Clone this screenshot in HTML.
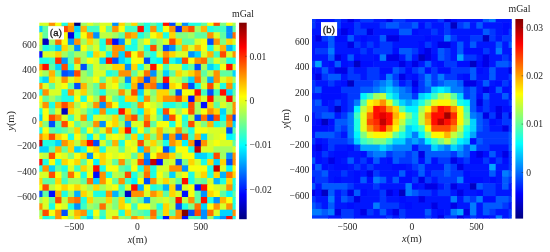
<!DOCTYPE html>
<html><head><meta charset="utf-8"><title>Gravity anomaly maps</title>
<style>html,body{margin:0;padding:0;background:#fff}svg{display:block}</style></head>
<body>
<svg width="550" height="252" viewBox="0 0 550 252" font-family="Liberation Serif, serif" fill="#262626">
<defs><linearGradient id="jet" x1="0" y1="0" x2="0" y2="1"><stop offset="0.000" stop-color="#800000"/><stop offset="0.025" stop-color="#990000"/><stop offset="0.050" stop-color="#b30000"/><stop offset="0.075" stop-color="#cc0000"/><stop offset="0.100" stop-color="#e50000"/><stop offset="0.125" stop-color="#ff0000"/><stop offset="0.150" stop-color="#ff1a00"/><stop offset="0.175" stop-color="#ff3300"/><stop offset="0.200" stop-color="#ff4c00"/><stop offset="0.225" stop-color="#ff6600"/><stop offset="0.250" stop-color="#ff8000"/><stop offset="0.275" stop-color="#ff9900"/><stop offset="0.300" stop-color="#ffb300"/><stop offset="0.325" stop-color="#ffcc00"/><stop offset="0.350" stop-color="#ffe500"/><stop offset="0.375" stop-color="#ffff00"/><stop offset="0.400" stop-color="#e5ff1a"/><stop offset="0.425" stop-color="#ccff33"/><stop offset="0.450" stop-color="#b3ff4c"/><stop offset="0.475" stop-color="#99ff66"/><stop offset="0.500" stop-color="#80ff80"/><stop offset="0.525" stop-color="#66ff99"/><stop offset="0.550" stop-color="#4cffb3"/><stop offset="0.575" stop-color="#33ffcc"/><stop offset="0.600" stop-color="#1affe5"/><stop offset="0.625" stop-color="#00ffff"/><stop offset="0.650" stop-color="#00e5ff"/><stop offset="0.675" stop-color="#00ccff"/><stop offset="0.700" stop-color="#00b3ff"/><stop offset="0.725" stop-color="#0099ff"/><stop offset="0.750" stop-color="#0080ff"/><stop offset="0.775" stop-color="#0066ff"/><stop offset="0.800" stop-color="#004cff"/><stop offset="0.825" stop-color="#0033ff"/><stop offset="0.850" stop-color="#001aff"/><stop offset="0.875" stop-color="#0000ff"/><stop offset="0.900" stop-color="#0000e5"/><stop offset="0.925" stop-color="#0000cc"/><stop offset="0.950" stop-color="#0000b3"/><stop offset="0.975" stop-color="#000099"/><stop offset="1.000" stop-color="#000080"/></linearGradient><filter id="soft" x="-2%" y="-2%" width="104%" height="104%"><feGaussianBlur stdDeviation="0.45"/></filter></defs>
<rect width="550" height="252" fill="#fff"/>
<g filter="url(#soft)"><rect x="39.30" y="22.70" width="10.10" height="3.77" fill="#d8ff27"/>
<rect x="48.80" y="22.70" width="6.94" height="3.77" fill="#ff9100"/>
<rect x="55.14" y="22.70" width="6.94" height="3.77" fill="#f7ff08"/>
<rect x="61.47" y="22.70" width="6.94" height="3.77" fill="#1affe5"/>
<rect x="67.81" y="22.70" width="6.94" height="3.77" fill="#ffb300"/>
<rect x="74.15" y="22.70" width="6.94" height="3.77" fill="#000080"/>
<rect x="80.48" y="22.70" width="6.94" height="3.77" fill="#a2ff5e"/>
<rect x="86.82" y="22.70" width="6.94" height="3.77" fill="#d8ff27"/>
<rect x="93.15" y="22.70" width="6.94" height="3.77" fill="#a2ff5e"/>
<rect x="99.49" y="22.70" width="13.27" height="3.77" fill="#d8ff27"/>
<rect x="112.16" y="22.70" width="6.94" height="3.77" fill="#0090ff"/>
<rect x="118.49" y="22.70" width="6.94" height="3.77" fill="#ffd500"/>
<rect x="124.83" y="22.70" width="6.94" height="3.77" fill="#a2ff5e"/>
<rect x="131.16" y="22.70" width="6.94" height="3.77" fill="#ffd500"/>
<rect x="137.50" y="22.70" width="6.94" height="3.77" fill="#5effa2"/>
<rect x="143.84" y="22.70" width="6.94" height="3.77" fill="#1affe5"/>
<rect x="150.17" y="22.70" width="6.94" height="3.77" fill="#5effa2"/>
<rect x="156.51" y="22.70" width="6.94" height="3.77" fill="#1affe5"/>
<rect x="162.84" y="22.70" width="6.94" height="3.77" fill="#ff0800"/>
<rect x="169.18" y="22.70" width="6.94" height="3.77" fill="#004dff"/>
<rect x="175.51" y="22.70" width="6.94" height="3.77" fill="#d8ff27"/>
<rect x="181.85" y="22.70" width="6.94" height="3.77" fill="#0090ff"/>
<rect x="188.18" y="22.70" width="13.27" height="3.77" fill="#1affe5"/>
<rect x="200.85" y="22.70" width="6.94" height="3.77" fill="#5effa2"/>
<rect x="207.19" y="22.70" width="6.94" height="3.77" fill="#f7ff08"/>
<rect x="213.53" y="22.70" width="6.94" height="3.77" fill="#ff4c00"/>
<rect x="219.86" y="22.70" width="6.94" height="3.77" fill="#80ff80"/>
<rect x="226.20" y="22.70" width="6.94" height="3.77" fill="#f7ff08"/>
<rect x="232.53" y="22.70" width="3.17" height="3.77" fill="#a2ff5e"/>
<rect x="39.30" y="25.87" width="3.77" height="6.94" fill="#00d4ff"/>
<rect x="42.47" y="25.87" width="6.94" height="6.94" fill="#5effa2"/>
<rect x="48.80" y="25.87" width="13.27" height="6.94" fill="#a2ff5e"/>
<rect x="61.47" y="25.87" width="6.94" height="6.94" fill="#ff4c00"/>
<rect x="67.81" y="25.87" width="6.94" height="6.94" fill="#ff9100"/>
<rect x="74.15" y="25.87" width="6.94" height="6.94" fill="#00d4ff"/>
<rect x="80.48" y="25.87" width="6.94" height="6.94" fill="#ffb300"/>
<rect x="86.82" y="25.87" width="13.27" height="6.94" fill="#3cffc3"/>
<rect x="99.49" y="25.87" width="6.94" height="6.94" fill="#f7ff08"/>
<rect x="105.82" y="25.87" width="6.94" height="6.94" fill="#5effa2"/>
<rect x="112.16" y="25.87" width="6.94" height="6.94" fill="#ff9100"/>
<rect x="118.49" y="25.87" width="6.94" height="6.94" fill="#f7ff08"/>
<rect x="124.83" y="25.87" width="13.27" height="6.94" fill="#3cffc3"/>
<rect x="137.50" y="25.87" width="6.94" height="6.94" fill="#ff0800"/>
<rect x="143.84" y="25.87" width="6.94" height="6.94" fill="#1affe5"/>
<rect x="150.17" y="25.87" width="6.94" height="6.94" fill="#ff9100"/>
<rect x="156.51" y="25.87" width="6.94" height="6.94" fill="#1affe5"/>
<rect x="162.84" y="25.87" width="6.94" height="6.94" fill="#f7ff08"/>
<rect x="169.18" y="25.87" width="6.94" height="6.94" fill="#ff9100"/>
<rect x="175.51" y="25.87" width="6.94" height="6.94" fill="#002aff"/>
<rect x="181.85" y="25.87" width="6.94" height="6.94" fill="#ff9100"/>
<rect x="188.18" y="25.87" width="6.94" height="6.94" fill="#ff4c00"/>
<rect x="194.52" y="25.87" width="6.94" height="6.94" fill="#a2ff5e"/>
<rect x="200.85" y="25.87" width="6.94" height="6.94" fill="#ffb300"/>
<rect x="207.19" y="25.87" width="6.94" height="6.94" fill="#1affe5"/>
<rect x="213.53" y="25.87" width="13.27" height="6.94" fill="#3cffc3"/>
<rect x="226.20" y="25.87" width="6.94" height="6.94" fill="#0090ff"/>
<rect x="232.53" y="25.87" width="3.17" height="6.94" fill="#5effa2"/>
<rect x="39.30" y="32.21" width="3.77" height="6.94" fill="#d8ff27"/>
<rect x="42.47" y="32.21" width="6.94" height="6.94" fill="#5effa2"/>
<rect x="48.80" y="32.21" width="13.27" height="6.94" fill="#a2ff5e"/>
<rect x="61.47" y="32.21" width="6.94" height="6.94" fill="#f7ff08"/>
<rect x="67.81" y="32.21" width="6.94" height="6.94" fill="#0000e6"/>
<rect x="74.15" y="32.21" width="6.94" height="6.94" fill="#1affe5"/>
<rect x="80.48" y="32.21" width="6.94" height="6.94" fill="#f7ff08"/>
<rect x="86.82" y="32.21" width="6.94" height="6.94" fill="#ff9100"/>
<rect x="93.15" y="32.21" width="6.94" height="6.94" fill="#0090ff"/>
<rect x="99.49" y="32.21" width="13.27" height="6.94" fill="#bdff42"/>
<rect x="112.16" y="32.21" width="6.94" height="6.94" fill="#a2ff5e"/>
<rect x="118.49" y="32.21" width="6.94" height="6.94" fill="#5effa2"/>
<rect x="124.83" y="32.21" width="6.94" height="6.94" fill="#ff9100"/>
<rect x="131.16" y="32.21" width="6.94" height="6.94" fill="#ffb300"/>
<rect x="137.50" y="32.21" width="6.94" height="6.94" fill="#1affe5"/>
<rect x="143.84" y="32.21" width="6.94" height="6.94" fill="#5effa2"/>
<rect x="150.17" y="32.21" width="6.94" height="6.94" fill="#f7ff08"/>
<rect x="156.51" y="32.21" width="6.94" height="6.94" fill="#ffd500"/>
<rect x="162.84" y="32.21" width="6.94" height="6.94" fill="#1affe5"/>
<rect x="169.18" y="32.21" width="6.94" height="6.94" fill="#ffd500"/>
<rect x="175.51" y="32.21" width="13.27" height="6.94" fill="#80ff80"/>
<rect x="188.18" y="32.21" width="6.94" height="6.94" fill="#a2ff5e"/>
<rect x="194.52" y="32.21" width="13.27" height="6.94" fill="#5effa2"/>
<rect x="207.19" y="32.21" width="6.94" height="6.94" fill="#ff9100"/>
<rect x="213.53" y="32.21" width="6.94" height="6.94" fill="#d8ff27"/>
<rect x="219.86" y="32.21" width="6.94" height="6.94" fill="#5effa2"/>
<rect x="226.20" y="32.21" width="6.94" height="6.94" fill="#0090ff"/>
<rect x="232.53" y="32.21" width="3.17" height="6.94" fill="#ff6e00"/>
<rect x="39.30" y="38.55" width="3.77" height="6.94" fill="#d8ff27"/>
<rect x="42.47" y="38.55" width="6.94" height="6.94" fill="#0000c3"/>
<rect x="48.80" y="38.55" width="6.94" height="6.94" fill="#a2ff5e"/>
<rect x="55.14" y="38.55" width="6.94" height="6.94" fill="#ff6e00"/>
<rect x="61.47" y="38.55" width="6.94" height="6.94" fill="#f7ff08"/>
<rect x="67.81" y="38.55" width="6.94" height="6.94" fill="#0090ff"/>
<rect x="74.15" y="38.55" width="6.94" height="6.94" fill="#ff9100"/>
<rect x="80.48" y="38.55" width="6.94" height="6.94" fill="#a2ff5e"/>
<rect x="86.82" y="38.55" width="6.94" height="6.94" fill="#ffd500"/>
<rect x="93.15" y="38.55" width="6.94" height="6.94" fill="#bdff42"/>
<rect x="99.49" y="38.55" width="6.94" height="6.94" fill="#1affe5"/>
<rect x="105.82" y="38.55" width="6.94" height="6.94" fill="#ff4c00"/>
<rect x="112.16" y="38.55" width="6.94" height="6.94" fill="#0008ff"/>
<rect x="118.49" y="38.55" width="6.94" height="6.94" fill="#0090ff"/>
<rect x="124.83" y="38.55" width="6.94" height="6.94" fill="#d8ff27"/>
<rect x="131.16" y="38.55" width="6.94" height="6.94" fill="#1affe5"/>
<rect x="137.50" y="38.55" width="6.94" height="6.94" fill="#a2ff5e"/>
<rect x="143.84" y="38.55" width="6.94" height="6.94" fill="#f7ff08"/>
<rect x="150.17" y="38.55" width="6.94" height="6.94" fill="#5effa2"/>
<rect x="156.51" y="38.55" width="6.94" height="6.94" fill="#a2ff5e"/>
<rect x="162.84" y="38.55" width="6.94" height="6.94" fill="#d8ff27"/>
<rect x="169.18" y="38.55" width="6.94" height="6.94" fill="#ff4c00"/>
<rect x="175.51" y="38.55" width="6.94" height="6.94" fill="#ffd500"/>
<rect x="181.85" y="38.55" width="13.27" height="6.94" fill="#5effa2"/>
<rect x="194.52" y="38.55" width="6.94" height="6.94" fill="#d8ff27"/>
<rect x="200.85" y="38.55" width="6.94" height="6.94" fill="#f7ff08"/>
<rect x="207.19" y="38.55" width="6.94" height="6.94" fill="#004dff"/>
<rect x="213.53" y="38.55" width="6.94" height="6.94" fill="#ff9100"/>
<rect x="219.86" y="38.55" width="6.94" height="6.94" fill="#80ff80"/>
<rect x="226.20" y="38.55" width="6.94" height="6.94" fill="#ffd500"/>
<rect x="232.53" y="38.55" width="3.17" height="6.94" fill="#d8ff27"/>
<rect x="39.30" y="44.89" width="3.77" height="6.94" fill="#a2ff5e"/>
<rect x="42.47" y="44.89" width="6.94" height="6.94" fill="#1affe5"/>
<rect x="48.80" y="44.89" width="6.94" height="6.94" fill="#3cffc3"/>
<rect x="55.14" y="44.89" width="6.94" height="6.94" fill="#00d4ff"/>
<rect x="61.47" y="44.89" width="6.94" height="6.94" fill="#ffd500"/>
<rect x="67.81" y="44.89" width="6.94" height="6.94" fill="#a2ff5e"/>
<rect x="74.15" y="44.89" width="6.94" height="6.94" fill="#0090ff"/>
<rect x="80.48" y="44.89" width="6.94" height="6.94" fill="#f7ff08"/>
<rect x="86.82" y="44.89" width="6.94" height="6.94" fill="#a2ff5e"/>
<rect x="93.15" y="44.89" width="6.94" height="6.94" fill="#d8ff27"/>
<rect x="99.49" y="44.89" width="6.94" height="6.94" fill="#1affe5"/>
<rect x="105.82" y="44.89" width="6.94" height="6.94" fill="#a2ff5e"/>
<rect x="112.16" y="44.89" width="13.27" height="6.94" fill="#ff9100"/>
<rect x="124.83" y="44.89" width="13.27" height="6.94" fill="#1affe5"/>
<rect x="137.50" y="44.89" width="6.94" height="6.94" fill="#a2ff5e"/>
<rect x="143.84" y="44.89" width="6.94" height="6.94" fill="#1affe5"/>
<rect x="150.17" y="44.89" width="6.94" height="6.94" fill="#ff4c00"/>
<rect x="156.51" y="44.89" width="6.94" height="6.94" fill="#a2ff5e"/>
<rect x="162.84" y="44.89" width="6.94" height="6.94" fill="#004dff"/>
<rect x="169.18" y="44.89" width="6.94" height="6.94" fill="#0090ff"/>
<rect x="175.51" y="44.89" width="6.94" height="6.94" fill="#5effa2"/>
<rect x="181.85" y="44.89" width="6.94" height="6.94" fill="#ffb300"/>
<rect x="188.18" y="44.89" width="6.94" height="6.94" fill="#d8ff27"/>
<rect x="194.52" y="44.89" width="6.94" height="6.94" fill="#ffb300"/>
<rect x="200.85" y="44.89" width="6.94" height="6.94" fill="#f7ff08"/>
<rect x="207.19" y="44.89" width="6.94" height="6.94" fill="#1affe5"/>
<rect x="213.53" y="44.89" width="6.94" height="6.94" fill="#d8ff27"/>
<rect x="219.86" y="44.89" width="6.94" height="6.94" fill="#ffb300"/>
<rect x="226.20" y="44.89" width="6.94" height="6.94" fill="#00b2ff"/>
<rect x="232.53" y="44.89" width="3.17" height="6.94" fill="#1affe5"/>
<rect x="39.30" y="51.22" width="3.77" height="6.94" fill="#0008ff"/>
<rect x="42.47" y="51.22" width="13.27" height="6.94" fill="#d8ff27"/>
<rect x="55.14" y="51.22" width="6.94" height="6.94" fill="#ffd500"/>
<rect x="61.47" y="51.22" width="6.94" height="6.94" fill="#a2ff5e"/>
<rect x="67.81" y="51.22" width="6.94" height="6.94" fill="#5effa2"/>
<rect x="74.15" y="51.22" width="13.27" height="6.94" fill="#a2ff5e"/>
<rect x="86.82" y="51.22" width="6.94" height="6.94" fill="#1affe5"/>
<rect x="93.15" y="51.22" width="6.94" height="6.94" fill="#ffd500"/>
<rect x="99.49" y="51.22" width="6.94" height="6.94" fill="#d8ff27"/>
<rect x="105.82" y="51.22" width="6.94" height="6.94" fill="#1affe5"/>
<rect x="112.16" y="51.22" width="6.94" height="6.94" fill="#ff9100"/>
<rect x="118.49" y="51.22" width="6.94" height="6.94" fill="#00d4ff"/>
<rect x="124.83" y="51.22" width="6.94" height="6.94" fill="#ff4c00"/>
<rect x="131.16" y="51.22" width="6.94" height="6.94" fill="#f7ff08"/>
<rect x="137.50" y="51.22" width="6.94" height="6.94" fill="#ff9100"/>
<rect x="143.84" y="51.22" width="6.94" height="6.94" fill="#5effa2"/>
<rect x="150.17" y="51.22" width="6.94" height="6.94" fill="#1affe5"/>
<rect x="156.51" y="51.22" width="6.94" height="6.94" fill="#d8ff27"/>
<rect x="162.84" y="51.22" width="6.94" height="6.94" fill="#ff9100"/>
<rect x="169.18" y="51.22" width="6.94" height="6.94" fill="#ffd500"/>
<rect x="175.51" y="51.22" width="13.27" height="6.94" fill="#d8ff27"/>
<rect x="188.18" y="51.22" width="6.94" height="6.94" fill="#0090ff"/>
<rect x="194.52" y="51.22" width="6.94" height="6.94" fill="#00d4ff"/>
<rect x="200.85" y="51.22" width="6.94" height="6.94" fill="#d8ff27"/>
<rect x="207.19" y="51.22" width="6.94" height="6.94" fill="#ffb300"/>
<rect x="213.53" y="51.22" width="6.94" height="6.94" fill="#3cffc3"/>
<rect x="219.86" y="51.22" width="6.94" height="6.94" fill="#ff4c00"/>
<rect x="226.20" y="51.22" width="6.94" height="6.94" fill="#d8ff27"/>
<rect x="232.53" y="51.22" width="3.17" height="6.94" fill="#ff9100"/>
<rect x="39.30" y="57.56" width="10.10" height="6.94" fill="#1affe5"/>
<rect x="48.80" y="57.56" width="6.94" height="6.94" fill="#3cffc3"/>
<rect x="55.14" y="57.56" width="6.94" height="6.94" fill="#ff2a00"/>
<rect x="61.47" y="57.56" width="6.94" height="6.94" fill="#0090ff"/>
<rect x="67.81" y="57.56" width="6.94" height="6.94" fill="#5effa2"/>
<rect x="74.15" y="57.56" width="6.94" height="6.94" fill="#ff9100"/>
<rect x="80.48" y="57.56" width="6.94" height="6.94" fill="#a2ff5e"/>
<rect x="86.82" y="57.56" width="6.94" height="6.94" fill="#f7ff08"/>
<rect x="93.15" y="57.56" width="6.94" height="6.94" fill="#d8ff27"/>
<rect x="99.49" y="57.56" width="6.94" height="6.94" fill="#00d4ff"/>
<rect x="105.82" y="57.56" width="6.94" height="6.94" fill="#ff0800"/>
<rect x="112.16" y="57.56" width="6.94" height="6.94" fill="#004dff"/>
<rect x="118.49" y="57.56" width="6.94" height="6.94" fill="#00d4ff"/>
<rect x="124.83" y="57.56" width="6.94" height="6.94" fill="#1affe5"/>
<rect x="131.16" y="57.56" width="13.27" height="6.94" fill="#f7ff08"/>
<rect x="143.84" y="57.56" width="6.94" height="6.94" fill="#004dff"/>
<rect x="150.17" y="57.56" width="6.94" height="6.94" fill="#1affe5"/>
<rect x="156.51" y="57.56" width="6.94" height="6.94" fill="#00f6ff"/>
<rect x="162.84" y="57.56" width="6.94" height="6.94" fill="#ff4c00"/>
<rect x="169.18" y="57.56" width="6.94" height="6.94" fill="#1affe5"/>
<rect x="175.51" y="57.56" width="6.94" height="6.94" fill="#00d4ff"/>
<rect x="181.85" y="57.56" width="6.94" height="6.94" fill="#ff4c00"/>
<rect x="188.18" y="57.56" width="6.94" height="6.94" fill="#f7ff08"/>
<rect x="194.52" y="57.56" width="6.94" height="6.94" fill="#ff9100"/>
<rect x="200.85" y="57.56" width="6.94" height="6.94" fill="#ff6e00"/>
<rect x="207.19" y="57.56" width="6.94" height="6.94" fill="#5effa2"/>
<rect x="213.53" y="57.56" width="6.94" height="6.94" fill="#d8ff27"/>
<rect x="219.86" y="57.56" width="6.94" height="6.94" fill="#a2ff5e"/>
<rect x="226.20" y="57.56" width="9.50" height="6.94" fill="#1affe5"/>
<rect x="39.30" y="63.90" width="3.77" height="6.94" fill="#ff9100"/>
<rect x="42.47" y="63.90" width="6.94" height="6.94" fill="#ff0800"/>
<rect x="48.80" y="63.90" width="6.94" height="6.94" fill="#5effa2"/>
<rect x="55.14" y="63.90" width="6.94" height="6.94" fill="#00d4ff"/>
<rect x="61.47" y="63.90" width="6.94" height="6.94" fill="#ff4c00"/>
<rect x="67.81" y="63.90" width="6.94" height="6.94" fill="#1affe5"/>
<rect x="74.15" y="63.90" width="6.94" height="6.94" fill="#d8ff27"/>
<rect x="80.48" y="63.90" width="6.94" height="6.94" fill="#004dff"/>
<rect x="86.82" y="63.90" width="6.94" height="6.94" fill="#5effa2"/>
<rect x="93.15" y="63.90" width="6.94" height="6.94" fill="#d8ff27"/>
<rect x="99.49" y="63.90" width="6.94" height="6.94" fill="#a2ff5e"/>
<rect x="105.82" y="63.90" width="6.94" height="6.94" fill="#bdff42"/>
<rect x="112.16" y="63.90" width="13.27" height="6.94" fill="#ffd500"/>
<rect x="124.83" y="63.90" width="6.94" height="6.94" fill="#0090ff"/>
<rect x="131.16" y="63.90" width="6.94" height="6.94" fill="#ffd500"/>
<rect x="137.50" y="63.90" width="6.94" height="6.94" fill="#1affe5"/>
<rect x="143.84" y="63.90" width="6.94" height="6.94" fill="#bdff42"/>
<rect x="150.17" y="63.90" width="6.94" height="6.94" fill="#ff0800"/>
<rect x="156.51" y="63.90" width="6.94" height="6.94" fill="#f7ff08"/>
<rect x="162.84" y="63.90" width="6.94" height="6.94" fill="#3cffc3"/>
<rect x="169.18" y="63.90" width="13.27" height="6.94" fill="#d8ff27"/>
<rect x="181.85" y="63.90" width="6.94" height="6.94" fill="#1affe5"/>
<rect x="188.18" y="63.90" width="6.94" height="6.94" fill="#5effa2"/>
<rect x="194.52" y="63.90" width="6.94" height="6.94" fill="#004dff"/>
<rect x="200.85" y="63.90" width="6.94" height="6.94" fill="#a2ff5e"/>
<rect x="207.19" y="63.90" width="6.94" height="6.94" fill="#00d4ff"/>
<rect x="213.53" y="63.90" width="6.94" height="6.94" fill="#1affe5"/>
<rect x="219.86" y="63.90" width="6.94" height="6.94" fill="#f7ff08"/>
<rect x="226.20" y="63.90" width="6.94" height="6.94" fill="#ff0800"/>
<rect x="232.53" y="63.90" width="3.17" height="6.94" fill="#d8ff27"/>
<rect x="39.30" y="70.24" width="3.77" height="6.94" fill="#d8ff27"/>
<rect x="42.47" y="70.24" width="6.94" height="6.94" fill="#a2ff5e"/>
<rect x="48.80" y="70.24" width="6.94" height="6.94" fill="#ffb300"/>
<rect x="55.14" y="70.24" width="6.94" height="6.94" fill="#5effa2"/>
<rect x="61.47" y="70.24" width="6.94" height="6.94" fill="#004dff"/>
<rect x="67.81" y="70.24" width="6.94" height="6.94" fill="#006eff"/>
<rect x="74.15" y="70.24" width="6.94" height="6.94" fill="#ff4c00"/>
<rect x="80.48" y="70.24" width="6.94" height="6.94" fill="#a2ff5e"/>
<rect x="86.82" y="70.24" width="6.94" height="6.94" fill="#5effa2"/>
<rect x="93.15" y="70.24" width="13.27" height="6.94" fill="#d8ff27"/>
<rect x="105.82" y="70.24" width="6.94" height="6.94" fill="#1affe5"/>
<rect x="112.16" y="70.24" width="6.94" height="6.94" fill="#3cffc3"/>
<rect x="118.49" y="70.24" width="13.27" height="6.94" fill="#ff9100"/>
<rect x="131.16" y="70.24" width="6.94" height="6.94" fill="#5effa2"/>
<rect x="137.50" y="70.24" width="6.94" height="6.94" fill="#d8ff27"/>
<rect x="143.84" y="70.24" width="6.94" height="6.94" fill="#ff6e00"/>
<rect x="150.17" y="70.24" width="6.94" height="6.94" fill="#0090ff"/>
<rect x="156.51" y="70.24" width="6.94" height="6.94" fill="#a2ff5e"/>
<rect x="162.84" y="70.24" width="6.94" height="6.94" fill="#00d4ff"/>
<rect x="169.18" y="70.24" width="6.94" height="6.94" fill="#5effa2"/>
<rect x="175.51" y="70.24" width="6.94" height="6.94" fill="#ffd500"/>
<rect x="181.85" y="70.24" width="6.94" height="6.94" fill="#d8ff27"/>
<rect x="188.18" y="70.24" width="6.94" height="6.94" fill="#ffd500"/>
<rect x="194.52" y="70.24" width="6.94" height="6.94" fill="#ff9100"/>
<rect x="200.85" y="70.24" width="6.94" height="6.94" fill="#5effa2"/>
<rect x="207.19" y="70.24" width="6.94" height="6.94" fill="#bdff42"/>
<rect x="213.53" y="70.24" width="6.94" height="6.94" fill="#ff9100"/>
<rect x="219.86" y="70.24" width="13.27" height="6.94" fill="#5effa2"/>
<rect x="232.53" y="70.24" width="3.17" height="6.94" fill="#00d4ff"/>
<rect x="39.30" y="76.58" width="3.77" height="6.94" fill="#1affe5"/>
<rect x="42.47" y="76.58" width="6.94" height="6.94" fill="#00d4ff"/>
<rect x="48.80" y="76.58" width="6.94" height="6.94" fill="#ffd500"/>
<rect x="55.14" y="76.58" width="6.94" height="6.94" fill="#d8ff27"/>
<rect x="61.47" y="76.58" width="6.94" height="6.94" fill="#ff9100"/>
<rect x="67.81" y="76.58" width="6.94" height="6.94" fill="#d8ff27"/>
<rect x="74.15" y="76.58" width="6.94" height="6.94" fill="#ffd500"/>
<rect x="80.48" y="76.58" width="6.94" height="6.94" fill="#a2ff5e"/>
<rect x="86.82" y="76.58" width="6.94" height="6.94" fill="#bdff42"/>
<rect x="93.15" y="76.58" width="6.94" height="6.94" fill="#f7ff08"/>
<rect x="99.49" y="76.58" width="6.94" height="6.94" fill="#5effa2"/>
<rect x="105.82" y="76.58" width="6.94" height="6.94" fill="#d8ff27"/>
<rect x="112.16" y="76.58" width="6.94" height="6.94" fill="#ffd500"/>
<rect x="118.49" y="76.58" width="6.94" height="6.94" fill="#a2ff5e"/>
<rect x="124.83" y="76.58" width="6.94" height="6.94" fill="#0090ff"/>
<rect x="131.16" y="76.58" width="6.94" height="6.94" fill="#ffd500"/>
<rect x="137.50" y="76.58" width="6.94" height="6.94" fill="#ff9100"/>
<rect x="143.84" y="76.58" width="6.94" height="6.94" fill="#004dff"/>
<rect x="150.17" y="76.58" width="6.94" height="6.94" fill="#ff9100"/>
<rect x="156.51" y="76.58" width="6.94" height="6.94" fill="#a2ff5e"/>
<rect x="162.84" y="76.58" width="6.94" height="6.94" fill="#ff0800"/>
<rect x="169.18" y="76.58" width="6.94" height="6.94" fill="#d8ff27"/>
<rect x="175.51" y="76.58" width="6.94" height="6.94" fill="#bdff42"/>
<rect x="181.85" y="76.58" width="6.94" height="6.94" fill="#5effa2"/>
<rect x="188.18" y="76.58" width="6.94" height="6.94" fill="#00d4ff"/>
<rect x="194.52" y="76.58" width="6.94" height="6.94" fill="#ff6e00"/>
<rect x="200.85" y="76.58" width="6.94" height="6.94" fill="#a2ff5e"/>
<rect x="207.19" y="76.58" width="6.94" height="6.94" fill="#00b2ff"/>
<rect x="213.53" y="76.58" width="6.94" height="6.94" fill="#ff9100"/>
<rect x="219.86" y="76.58" width="6.94" height="6.94" fill="#d8ff27"/>
<rect x="226.20" y="76.58" width="6.94" height="6.94" fill="#ffd500"/>
<rect x="232.53" y="76.58" width="3.17" height="6.94" fill="#a2ff5e"/>
<rect x="39.30" y="82.92" width="3.77" height="6.94" fill="#ff9100"/>
<rect x="42.47" y="82.92" width="6.94" height="6.94" fill="#d8ff27"/>
<rect x="48.80" y="82.92" width="6.94" height="6.94" fill="#5effa2"/>
<rect x="55.14" y="82.92" width="6.94" height="6.94" fill="#d8ff27"/>
<rect x="61.47" y="82.92" width="6.94" height="6.94" fill="#f7ff08"/>
<rect x="67.81" y="82.92" width="6.94" height="6.94" fill="#5effa2"/>
<rect x="74.15" y="82.92" width="6.94" height="6.94" fill="#004dff"/>
<rect x="80.48" y="82.92" width="6.94" height="6.94" fill="#ffb300"/>
<rect x="86.82" y="82.92" width="6.94" height="6.94" fill="#a2ff5e"/>
<rect x="93.15" y="82.92" width="6.94" height="6.94" fill="#5effa2"/>
<rect x="99.49" y="82.92" width="6.94" height="6.94" fill="#ff9100"/>
<rect x="105.82" y="82.92" width="6.94" height="6.94" fill="#d8ff27"/>
<rect x="112.16" y="82.92" width="6.94" height="6.94" fill="#f7ff08"/>
<rect x="118.49" y="82.92" width="6.94" height="6.94" fill="#5effa2"/>
<rect x="124.83" y="82.92" width="6.94" height="6.94" fill="#1affe5"/>
<rect x="131.16" y="82.92" width="6.94" height="6.94" fill="#ffb300"/>
<rect x="137.50" y="82.92" width="6.94" height="6.94" fill="#004dff"/>
<rect x="143.84" y="82.92" width="6.94" height="6.94" fill="#ff9100"/>
<rect x="150.17" y="82.92" width="6.94" height="6.94" fill="#ff6e00"/>
<rect x="156.51" y="82.92" width="6.94" height="6.94" fill="#0090ff"/>
<rect x="162.84" y="82.92" width="6.94" height="6.94" fill="#002aff"/>
<rect x="169.18" y="82.92" width="6.94" height="6.94" fill="#ffd500"/>
<rect x="175.51" y="82.92" width="6.94" height="6.94" fill="#f7ff08"/>
<rect x="181.85" y="82.92" width="6.94" height="6.94" fill="#ff4c00"/>
<rect x="188.18" y="82.92" width="6.94" height="6.94" fill="#004dff"/>
<rect x="194.52" y="82.92" width="6.94" height="6.94" fill="#1affe5"/>
<rect x="200.85" y="82.92" width="6.94" height="6.94" fill="#d8ff27"/>
<rect x="207.19" y="82.92" width="6.94" height="6.94" fill="#ff4c00"/>
<rect x="213.53" y="82.92" width="6.94" height="6.94" fill="#d8ff27"/>
<rect x="219.86" y="82.92" width="6.94" height="6.94" fill="#1affe5"/>
<rect x="226.20" y="82.92" width="6.94" height="6.94" fill="#ff9100"/>
<rect x="232.53" y="82.92" width="3.17" height="6.94" fill="#1affe5"/>
<rect x="39.30" y="89.26" width="3.77" height="6.94" fill="#1affe5"/>
<rect x="42.47" y="89.26" width="6.94" height="6.94" fill="#ff9100"/>
<rect x="48.80" y="89.26" width="13.27" height="6.94" fill="#d8ff27"/>
<rect x="61.47" y="89.26" width="6.94" height="6.94" fill="#1affe5"/>
<rect x="67.81" y="89.26" width="6.94" height="6.94" fill="#ff9100"/>
<rect x="74.15" y="89.26" width="6.94" height="6.94" fill="#d8ff27"/>
<rect x="80.48" y="89.26" width="6.94" height="6.94" fill="#ffd500"/>
<rect x="86.82" y="89.26" width="6.94" height="6.94" fill="#a2ff5e"/>
<rect x="93.15" y="89.26" width="6.94" height="6.94" fill="#5effa2"/>
<rect x="99.49" y="89.26" width="6.94" height="6.94" fill="#1affe5"/>
<rect x="105.82" y="89.26" width="13.27" height="6.94" fill="#a2ff5e"/>
<rect x="118.49" y="89.26" width="6.94" height="6.94" fill="#ff9100"/>
<rect x="124.83" y="89.26" width="6.94" height="6.94" fill="#bdff42"/>
<rect x="131.16" y="89.26" width="6.94" height="6.94" fill="#ff4c00"/>
<rect x="137.50" y="89.26" width="6.94" height="6.94" fill="#00d4ff"/>
<rect x="143.84" y="89.26" width="6.94" height="6.94" fill="#d8ff27"/>
<rect x="150.17" y="89.26" width="6.94" height="6.94" fill="#80ff80"/>
<rect x="156.51" y="89.26" width="13.27" height="6.94" fill="#ffd500"/>
<rect x="169.18" y="89.26" width="6.94" height="6.94" fill="#80ff80"/>
<rect x="175.51" y="89.26" width="6.94" height="6.94" fill="#004dff"/>
<rect x="181.85" y="89.26" width="13.27" height="6.94" fill="#f7ff08"/>
<rect x="194.52" y="89.26" width="6.94" height="6.94" fill="#ff0800"/>
<rect x="200.85" y="89.26" width="6.94" height="6.94" fill="#3cffc3"/>
<rect x="207.19" y="89.26" width="6.94" height="6.94" fill="#004dff"/>
<rect x="213.53" y="89.26" width="6.94" height="6.94" fill="#3cffc3"/>
<rect x="219.86" y="89.26" width="6.94" height="6.94" fill="#ff0800"/>
<rect x="226.20" y="89.26" width="6.94" height="6.94" fill="#00d4ff"/>
<rect x="232.53" y="89.26" width="3.17" height="6.94" fill="#5effa2"/>
<rect x="39.30" y="95.60" width="3.77" height="6.94" fill="#f7ff08"/>
<rect x="42.47" y="95.60" width="6.94" height="6.94" fill="#5effa2"/>
<rect x="48.80" y="95.60" width="6.94" height="6.94" fill="#a2ff5e"/>
<rect x="55.14" y="95.60" width="6.94" height="6.94" fill="#5effa2"/>
<rect x="61.47" y="95.60" width="13.27" height="6.94" fill="#1affe5"/>
<rect x="74.15" y="95.60" width="6.94" height="6.94" fill="#f7ff08"/>
<rect x="80.48" y="95.60" width="6.94" height="6.94" fill="#1affe5"/>
<rect x="86.82" y="95.60" width="6.94" height="6.94" fill="#f7ff08"/>
<rect x="93.15" y="95.60" width="6.94" height="6.94" fill="#a2ff5e"/>
<rect x="99.49" y="95.60" width="6.94" height="6.94" fill="#ff4c00"/>
<rect x="105.82" y="95.60" width="6.94" height="6.94" fill="#d8ff27"/>
<rect x="112.16" y="95.60" width="6.94" height="6.94" fill="#5effa2"/>
<rect x="118.49" y="95.60" width="6.94" height="6.94" fill="#1affe5"/>
<rect x="124.83" y="95.60" width="13.27" height="6.94" fill="#ffd500"/>
<rect x="137.50" y="95.60" width="6.94" height="6.94" fill="#1affe5"/>
<rect x="143.84" y="95.60" width="6.94" height="6.94" fill="#ff9100"/>
<rect x="150.17" y="95.60" width="6.94" height="6.94" fill="#a2ff5e"/>
<rect x="156.51" y="95.60" width="6.94" height="6.94" fill="#ffd500"/>
<rect x="162.84" y="95.60" width="13.27" height="6.94" fill="#ff9100"/>
<rect x="175.51" y="95.60" width="6.94" height="6.94" fill="#ff4c00"/>
<rect x="181.85" y="95.60" width="6.94" height="6.94" fill="#ffd500"/>
<rect x="188.18" y="95.60" width="6.94" height="6.94" fill="#0008ff"/>
<rect x="194.52" y="95.60" width="6.94" height="6.94" fill="#ffb300"/>
<rect x="200.85" y="95.60" width="6.94" height="6.94" fill="#d8ff27"/>
<rect x="207.19" y="95.60" width="6.94" height="6.94" fill="#ff0800"/>
<rect x="213.53" y="95.60" width="6.94" height="6.94" fill="#a2ff5e"/>
<rect x="219.86" y="95.60" width="6.94" height="6.94" fill="#bdff42"/>
<rect x="226.20" y="95.60" width="6.94" height="6.94" fill="#ff0800"/>
<rect x="232.53" y="95.60" width="3.17" height="6.94" fill="#a2ff5e"/>
<rect x="39.30" y="101.93" width="3.77" height="6.94" fill="#d8ff27"/>
<rect x="42.47" y="101.93" width="6.94" height="6.94" fill="#ff9100"/>
<rect x="48.80" y="101.93" width="6.94" height="6.94" fill="#1affe5"/>
<rect x="55.14" y="101.93" width="6.94" height="6.94" fill="#ffb300"/>
<rect x="61.47" y="101.93" width="6.94" height="6.94" fill="#ff4c00"/>
<rect x="67.81" y="101.93" width="6.94" height="6.94" fill="#ffb300"/>
<rect x="74.15" y="101.93" width="6.94" height="6.94" fill="#a2ff5e"/>
<rect x="80.48" y="101.93" width="6.94" height="6.94" fill="#f7ff08"/>
<rect x="86.82" y="101.93" width="6.94" height="6.94" fill="#a2ff5e"/>
<rect x="93.15" y="101.93" width="6.94" height="6.94" fill="#ff9100"/>
<rect x="99.49" y="101.93" width="6.94" height="6.94" fill="#0090ff"/>
<rect x="105.82" y="101.93" width="6.94" height="6.94" fill="#ff9100"/>
<rect x="112.16" y="101.93" width="6.94" height="6.94" fill="#f7ff08"/>
<rect x="118.49" y="101.93" width="13.27" height="6.94" fill="#1affe5"/>
<rect x="131.16" y="101.93" width="6.94" height="6.94" fill="#5effa2"/>
<rect x="137.50" y="101.93" width="6.94" height="6.94" fill="#ff9100"/>
<rect x="143.84" y="101.93" width="6.94" height="6.94" fill="#f7ff08"/>
<rect x="150.17" y="101.93" width="6.94" height="6.94" fill="#d8ff27"/>
<rect x="156.51" y="101.93" width="6.94" height="6.94" fill="#a2ff5e"/>
<rect x="162.84" y="101.93" width="13.27" height="6.94" fill="#1affe5"/>
<rect x="175.51" y="101.93" width="6.94" height="6.94" fill="#5effa2"/>
<rect x="181.85" y="101.93" width="6.94" height="6.94" fill="#1affe5"/>
<rect x="188.18" y="101.93" width="6.94" height="6.94" fill="#ff4c00"/>
<rect x="194.52" y="101.93" width="6.94" height="6.94" fill="#a2ff5e"/>
<rect x="200.85" y="101.93" width="6.94" height="6.94" fill="#0008ff"/>
<rect x="207.19" y="101.93" width="6.94" height="6.94" fill="#ffd500"/>
<rect x="213.53" y="101.93" width="6.94" height="6.94" fill="#5effa2"/>
<rect x="219.86" y="101.93" width="6.94" height="6.94" fill="#d8ff27"/>
<rect x="226.20" y="101.93" width="6.94" height="6.94" fill="#a2ff5e"/>
<rect x="232.53" y="101.93" width="3.17" height="6.94" fill="#ff9100"/>
<rect x="39.30" y="108.27" width="3.77" height="6.94" fill="#1affe5"/>
<rect x="42.47" y="108.27" width="6.94" height="6.94" fill="#f7ff08"/>
<rect x="48.80" y="108.27" width="6.94" height="6.94" fill="#5effa2"/>
<rect x="55.14" y="108.27" width="6.94" height="6.94" fill="#d8ff27"/>
<rect x="61.47" y="108.27" width="6.94" height="6.94" fill="#0000c3"/>
<rect x="67.81" y="108.27" width="6.94" height="6.94" fill="#ffd500"/>
<rect x="74.15" y="108.27" width="6.94" height="6.94" fill="#d8ff27"/>
<rect x="80.48" y="108.27" width="6.94" height="6.94" fill="#a2ff5e"/>
<rect x="86.82" y="108.27" width="6.94" height="6.94" fill="#3cffc3"/>
<rect x="93.15" y="108.27" width="6.94" height="6.94" fill="#00f6ff"/>
<rect x="99.49" y="108.27" width="6.94" height="6.94" fill="#ff9100"/>
<rect x="105.82" y="108.27" width="13.27" height="6.94" fill="#1affe5"/>
<rect x="118.49" y="108.27" width="6.94" height="6.94" fill="#ff0800"/>
<rect x="124.83" y="108.27" width="6.94" height="6.94" fill="#ffd500"/>
<rect x="131.16" y="108.27" width="6.94" height="6.94" fill="#5effa2"/>
<rect x="137.50" y="108.27" width="6.94" height="6.94" fill="#00f6ff"/>
<rect x="143.84" y="108.27" width="6.94" height="6.94" fill="#ffd500"/>
<rect x="150.17" y="108.27" width="6.94" height="6.94" fill="#f7ff08"/>
<rect x="156.51" y="108.27" width="6.94" height="6.94" fill="#1affe5"/>
<rect x="162.84" y="108.27" width="6.94" height="6.94" fill="#ff4c00"/>
<rect x="169.18" y="108.27" width="6.94" height="6.94" fill="#f7ff08"/>
<rect x="175.51" y="108.27" width="6.94" height="6.94" fill="#a2ff5e"/>
<rect x="181.85" y="108.27" width="6.94" height="6.94" fill="#f7ff08"/>
<rect x="188.18" y="108.27" width="6.94" height="6.94" fill="#ff4c00"/>
<rect x="194.52" y="108.27" width="6.94" height="6.94" fill="#a2ff5e"/>
<rect x="200.85" y="108.27" width="6.94" height="6.94" fill="#f7ff08"/>
<rect x="207.19" y="108.27" width="6.94" height="6.94" fill="#ff9100"/>
<rect x="213.53" y="108.27" width="6.94" height="6.94" fill="#ffd500"/>
<rect x="219.86" y="108.27" width="6.94" height="6.94" fill="#00d4ff"/>
<rect x="226.20" y="108.27" width="6.94" height="6.94" fill="#a2ff5e"/>
<rect x="232.53" y="108.27" width="3.17" height="6.94" fill="#ff9100"/>
<rect x="39.30" y="114.61" width="3.77" height="6.94" fill="#00d4ff"/>
<rect x="42.47" y="114.61" width="6.94" height="6.94" fill="#f7ff08"/>
<rect x="48.80" y="114.61" width="6.94" height="6.94" fill="#ff4c00"/>
<rect x="55.14" y="114.61" width="6.94" height="6.94" fill="#ff9100"/>
<rect x="61.47" y="114.61" width="6.94" height="6.94" fill="#d8ff27"/>
<rect x="67.81" y="114.61" width="6.94" height="6.94" fill="#3cffc3"/>
<rect x="74.15" y="114.61" width="6.94" height="6.94" fill="#d8ff27"/>
<rect x="80.48" y="114.61" width="6.94" height="6.94" fill="#ff9100"/>
<rect x="86.82" y="114.61" width="6.94" height="6.94" fill="#1affe5"/>
<rect x="93.15" y="114.61" width="13.27" height="6.94" fill="#d8ff27"/>
<rect x="105.82" y="114.61" width="6.94" height="6.94" fill="#bdff42"/>
<rect x="112.16" y="114.61" width="6.94" height="6.94" fill="#ffd500"/>
<rect x="118.49" y="114.61" width="6.94" height="6.94" fill="#5effa2"/>
<rect x="124.83" y="114.61" width="6.94" height="6.94" fill="#ff9100"/>
<rect x="131.16" y="114.61" width="6.94" height="6.94" fill="#ff4c00"/>
<rect x="137.50" y="114.61" width="6.94" height="6.94" fill="#5effa2"/>
<rect x="143.84" y="114.61" width="6.94" height="6.94" fill="#ff9100"/>
<rect x="150.17" y="114.61" width="6.94" height="6.94" fill="#d8ff27"/>
<rect x="156.51" y="114.61" width="6.94" height="6.94" fill="#5effa2"/>
<rect x="162.84" y="114.61" width="6.94" height="6.94" fill="#0090ff"/>
<rect x="169.18" y="114.61" width="6.94" height="6.94" fill="#ff4c00"/>
<rect x="175.51" y="114.61" width="6.94" height="6.94" fill="#f7ff08"/>
<rect x="181.85" y="114.61" width="6.94" height="6.94" fill="#1affe5"/>
<rect x="188.18" y="114.61" width="6.94" height="6.94" fill="#bdff42"/>
<rect x="194.52" y="114.61" width="6.94" height="6.94" fill="#004dff"/>
<rect x="200.85" y="114.61" width="6.94" height="6.94" fill="#ff6e00"/>
<rect x="207.19" y="114.61" width="6.94" height="6.94" fill="#004dff"/>
<rect x="213.53" y="114.61" width="6.94" height="6.94" fill="#ff4c00"/>
<rect x="219.86" y="114.61" width="6.94" height="6.94" fill="#00f6ff"/>
<rect x="226.20" y="114.61" width="6.94" height="6.94" fill="#ff6e00"/>
<rect x="232.53" y="114.61" width="3.17" height="6.94" fill="#004dff"/>
<rect x="39.30" y="120.95" width="3.77" height="6.94" fill="#ffd500"/>
<rect x="42.47" y="120.95" width="6.94" height="6.94" fill="#80ff80"/>
<rect x="48.80" y="120.95" width="6.94" height="6.94" fill="#004dff"/>
<rect x="55.14" y="120.95" width="6.94" height="6.94" fill="#5effa2"/>
<rect x="61.47" y="120.95" width="6.94" height="6.94" fill="#ff4c00"/>
<rect x="67.81" y="120.95" width="6.94" height="6.94" fill="#f7ff08"/>
<rect x="74.15" y="120.95" width="6.94" height="6.94" fill="#5effa2"/>
<rect x="80.48" y="120.95" width="6.94" height="6.94" fill="#a2ff5e"/>
<rect x="86.82" y="120.95" width="6.94" height="6.94" fill="#80ff80"/>
<rect x="93.15" y="120.95" width="6.94" height="6.94" fill="#ff9100"/>
<rect x="99.49" y="120.95" width="6.94" height="6.94" fill="#0090ff"/>
<rect x="105.82" y="120.95" width="6.94" height="6.94" fill="#f7ff08"/>
<rect x="112.16" y="120.95" width="6.94" height="6.94" fill="#ffd500"/>
<rect x="118.49" y="120.95" width="6.94" height="6.94" fill="#a2ff5e"/>
<rect x="124.83" y="120.95" width="6.94" height="6.94" fill="#0090ff"/>
<rect x="131.16" y="120.95" width="13.27" height="6.94" fill="#d8ff27"/>
<rect x="143.84" y="120.95" width="6.94" height="6.94" fill="#ff4c00"/>
<rect x="150.17" y="120.95" width="6.94" height="6.94" fill="#5effa2"/>
<rect x="156.51" y="120.95" width="13.27" height="6.94" fill="#f7ff08"/>
<rect x="169.18" y="120.95" width="6.94" height="6.94" fill="#1affe5"/>
<rect x="175.51" y="120.95" width="6.94" height="6.94" fill="#f7ff08"/>
<rect x="181.85" y="120.95" width="6.94" height="6.94" fill="#3cffc3"/>
<rect x="188.18" y="120.95" width="6.94" height="6.94" fill="#ff4c00"/>
<rect x="194.52" y="120.95" width="6.94" height="6.94" fill="#d8ff27"/>
<rect x="200.85" y="120.95" width="6.94" height="6.94" fill="#80ff80"/>
<rect x="207.19" y="120.95" width="6.94" height="6.94" fill="#ffb300"/>
<rect x="213.53" y="120.95" width="6.94" height="6.94" fill="#1affe5"/>
<rect x="219.86" y="120.95" width="6.94" height="6.94" fill="#5effa2"/>
<rect x="226.20" y="120.95" width="6.94" height="6.94" fill="#ff9100"/>
<rect x="232.53" y="120.95" width="3.17" height="6.94" fill="#00d4ff"/>
<rect x="39.30" y="127.29" width="3.77" height="6.94" fill="#1affe5"/>
<rect x="42.47" y="127.29" width="6.94" height="6.94" fill="#f7ff08"/>
<rect x="48.80" y="127.29" width="6.94" height="6.94" fill="#5effa2"/>
<rect x="55.14" y="127.29" width="6.94" height="6.94" fill="#3cffc3"/>
<rect x="61.47" y="127.29" width="6.94" height="6.94" fill="#5effa2"/>
<rect x="67.81" y="127.29" width="6.94" height="6.94" fill="#a2ff5e"/>
<rect x="74.15" y="127.29" width="6.94" height="6.94" fill="#ffd500"/>
<rect x="80.48" y="127.29" width="6.94" height="6.94" fill="#3cffc3"/>
<rect x="86.82" y="127.29" width="6.94" height="6.94" fill="#f7ff08"/>
<rect x="93.15" y="127.29" width="6.94" height="6.94" fill="#5effa2"/>
<rect x="99.49" y="127.29" width="6.94" height="6.94" fill="#d8ff27"/>
<rect x="105.82" y="127.29" width="6.94" height="6.94" fill="#ff9100"/>
<rect x="112.16" y="127.29" width="6.94" height="6.94" fill="#1affe5"/>
<rect x="118.49" y="127.29" width="6.94" height="6.94" fill="#ffd500"/>
<rect x="124.83" y="127.29" width="6.94" height="6.94" fill="#ff0800"/>
<rect x="131.16" y="127.29" width="6.94" height="6.94" fill="#1affe5"/>
<rect x="137.50" y="127.29" width="6.94" height="6.94" fill="#f7ff08"/>
<rect x="143.84" y="127.29" width="6.94" height="6.94" fill="#5effa2"/>
<rect x="150.17" y="127.29" width="6.94" height="6.94" fill="#d8ff27"/>
<rect x="156.51" y="127.29" width="6.94" height="6.94" fill="#ffb300"/>
<rect x="162.84" y="127.29" width="6.94" height="6.94" fill="#bdff42"/>
<rect x="169.18" y="127.29" width="6.94" height="6.94" fill="#d8ff27"/>
<rect x="175.51" y="127.29" width="6.94" height="6.94" fill="#ff9100"/>
<rect x="181.85" y="127.29" width="6.94" height="6.94" fill="#80ff80"/>
<rect x="188.18" y="127.29" width="6.94" height="6.94" fill="#1affe5"/>
<rect x="194.52" y="127.29" width="13.27" height="6.94" fill="#f7ff08"/>
<rect x="207.19" y="127.29" width="19.61" height="6.94" fill="#d8ff27"/>
<rect x="226.20" y="127.29" width="6.94" height="6.94" fill="#004dff"/>
<rect x="232.53" y="127.29" width="3.17" height="6.94" fill="#5effa2"/>
<rect x="39.30" y="133.63" width="3.77" height="6.94" fill="#ff9100"/>
<rect x="42.47" y="133.63" width="6.94" height="6.94" fill="#ffd500"/>
<rect x="48.80" y="133.63" width="6.94" height="6.94" fill="#ff4c00"/>
<rect x="55.14" y="133.63" width="6.94" height="6.94" fill="#ffd500"/>
<rect x="61.47" y="133.63" width="6.94" height="6.94" fill="#f7ff08"/>
<rect x="67.81" y="133.63" width="6.94" height="6.94" fill="#1affe5"/>
<rect x="74.15" y="133.63" width="6.94" height="6.94" fill="#f7ff08"/>
<rect x="80.48" y="133.63" width="6.94" height="6.94" fill="#a2ff5e"/>
<rect x="86.82" y="133.63" width="6.94" height="6.94" fill="#00f6ff"/>
<rect x="93.15" y="133.63" width="6.94" height="6.94" fill="#d8ff27"/>
<rect x="99.49" y="133.63" width="6.94" height="6.94" fill="#1affe5"/>
<rect x="105.82" y="133.63" width="6.94" height="6.94" fill="#d8ff27"/>
<rect x="112.16" y="133.63" width="6.94" height="6.94" fill="#f7ff08"/>
<rect x="118.49" y="133.63" width="6.94" height="6.94" fill="#d8ff27"/>
<rect x="124.83" y="133.63" width="6.94" height="6.94" fill="#5effa2"/>
<rect x="131.16" y="133.63" width="6.94" height="6.94" fill="#ffd500"/>
<rect x="137.50" y="133.63" width="6.94" height="6.94" fill="#1affe5"/>
<rect x="143.84" y="133.63" width="6.94" height="6.94" fill="#ffb300"/>
<rect x="150.17" y="133.63" width="6.94" height="6.94" fill="#80ff80"/>
<rect x="156.51" y="133.63" width="6.94" height="6.94" fill="#ffb300"/>
<rect x="162.84" y="133.63" width="6.94" height="6.94" fill="#0090ff"/>
<rect x="169.18" y="133.63" width="6.94" height="6.94" fill="#ff9100"/>
<rect x="175.51" y="133.63" width="6.94" height="6.94" fill="#006eff"/>
<rect x="181.85" y="133.63" width="6.94" height="6.94" fill="#ff4c00"/>
<rect x="188.18" y="133.63" width="6.94" height="6.94" fill="#3cffc3"/>
<rect x="194.52" y="133.63" width="6.94" height="6.94" fill="#ffb300"/>
<rect x="200.85" y="133.63" width="6.94" height="6.94" fill="#00d4ff"/>
<rect x="207.19" y="133.63" width="6.94" height="6.94" fill="#bdff42"/>
<rect x="213.53" y="133.63" width="6.94" height="6.94" fill="#d8ff27"/>
<rect x="219.86" y="133.63" width="6.94" height="6.94" fill="#f7ff08"/>
<rect x="226.20" y="133.63" width="6.94" height="6.94" fill="#00f6ff"/>
<rect x="232.53" y="133.63" width="3.17" height="6.94" fill="#1affe5"/>
<rect x="39.30" y="139.97" width="3.77" height="6.94" fill="#c30000"/>
<rect x="42.47" y="139.97" width="13.27" height="6.94" fill="#1affe5"/>
<rect x="55.14" y="139.97" width="6.94" height="6.94" fill="#00d4ff"/>
<rect x="61.47" y="139.97" width="6.94" height="6.94" fill="#ff9100"/>
<rect x="67.81" y="139.97" width="6.94" height="6.94" fill="#ffd500"/>
<rect x="74.15" y="139.97" width="6.94" height="6.94" fill="#bdff42"/>
<rect x="80.48" y="139.97" width="6.94" height="6.94" fill="#ffb300"/>
<rect x="86.82" y="139.97" width="6.94" height="6.94" fill="#ff0800"/>
<rect x="93.15" y="139.97" width="6.94" height="6.94" fill="#004dff"/>
<rect x="99.49" y="139.97" width="6.94" height="6.94" fill="#d8ff27"/>
<rect x="105.82" y="139.97" width="6.94" height="6.94" fill="#5effa2"/>
<rect x="112.16" y="139.97" width="6.94" height="6.94" fill="#ffb300"/>
<rect x="118.49" y="139.97" width="6.94" height="6.94" fill="#1affe5"/>
<rect x="124.83" y="139.97" width="6.94" height="6.94" fill="#f7ff08"/>
<rect x="131.16" y="139.97" width="6.94" height="6.94" fill="#d8ff27"/>
<rect x="137.50" y="139.97" width="6.94" height="6.94" fill="#ff4c00"/>
<rect x="143.84" y="139.97" width="6.94" height="6.94" fill="#bdff42"/>
<rect x="150.17" y="139.97" width="6.94" height="6.94" fill="#ffd500"/>
<rect x="156.51" y="139.97" width="6.94" height="6.94" fill="#a2ff5e"/>
<rect x="162.84" y="139.97" width="6.94" height="6.94" fill="#1affe5"/>
<rect x="169.18" y="139.97" width="6.94" height="6.94" fill="#ff9100"/>
<rect x="175.51" y="139.97" width="6.94" height="6.94" fill="#ffd500"/>
<rect x="181.85" y="139.97" width="6.94" height="6.94" fill="#00f6ff"/>
<rect x="188.18" y="139.97" width="6.94" height="6.94" fill="#ff9100"/>
<rect x="194.52" y="139.97" width="6.94" height="6.94" fill="#0000c3"/>
<rect x="200.85" y="139.97" width="6.94" height="6.94" fill="#ff9100"/>
<rect x="207.19" y="139.97" width="6.94" height="6.94" fill="#d8ff27"/>
<rect x="213.53" y="139.97" width="6.94" height="6.94" fill="#f7ff08"/>
<rect x="219.86" y="139.97" width="13.27" height="6.94" fill="#d8ff27"/>
<rect x="232.53" y="139.97" width="3.17" height="6.94" fill="#5effa2"/>
<rect x="39.30" y="146.30" width="10.10" height="6.94" fill="#00d4ff"/>
<rect x="48.80" y="146.30" width="6.94" height="6.94" fill="#5effa2"/>
<rect x="55.14" y="146.30" width="6.94" height="6.94" fill="#ffb300"/>
<rect x="61.47" y="146.30" width="6.94" height="6.94" fill="#5effa2"/>
<rect x="67.81" y="146.30" width="6.94" height="6.94" fill="#ffd500"/>
<rect x="74.15" y="146.30" width="6.94" height="6.94" fill="#00d4ff"/>
<rect x="80.48" y="146.30" width="6.94" height="6.94" fill="#1affe5"/>
<rect x="86.82" y="146.30" width="6.94" height="6.94" fill="#f7ff08"/>
<rect x="93.15" y="146.30" width="6.94" height="6.94" fill="#ffd500"/>
<rect x="99.49" y="146.30" width="6.94" height="6.94" fill="#1affe5"/>
<rect x="105.82" y="146.30" width="13.27" height="6.94" fill="#d8ff27"/>
<rect x="118.49" y="146.30" width="6.94" height="6.94" fill="#5effa2"/>
<rect x="124.83" y="146.30" width="6.94" height="6.94" fill="#d8ff27"/>
<rect x="131.16" y="146.30" width="6.94" height="6.94" fill="#f7ff08"/>
<rect x="137.50" y="146.30" width="6.94" height="6.94" fill="#00d4ff"/>
<rect x="143.84" y="146.30" width="6.94" height="6.94" fill="#ff9100"/>
<rect x="150.17" y="146.30" width="6.94" height="6.94" fill="#bdff42"/>
<rect x="156.51" y="146.30" width="6.94" height="6.94" fill="#f7ff08"/>
<rect x="162.84" y="146.30" width="6.94" height="6.94" fill="#004dff"/>
<rect x="169.18" y="146.30" width="6.94" height="6.94" fill="#00d4ff"/>
<rect x="175.51" y="146.30" width="13.27" height="6.94" fill="#f7ff08"/>
<rect x="188.18" y="146.30" width="6.94" height="6.94" fill="#1affe5"/>
<rect x="194.52" y="146.30" width="6.94" height="6.94" fill="#c30000"/>
<rect x="200.85" y="146.30" width="13.27" height="6.94" fill="#d8ff27"/>
<rect x="213.53" y="146.30" width="19.61" height="6.94" fill="#a2ff5e"/>
<rect x="232.53" y="146.30" width="3.17" height="6.94" fill="#d8ff27"/>
<rect x="39.30" y="152.64" width="3.77" height="6.94" fill="#d8ff27"/>
<rect x="42.47" y="152.64" width="6.94" height="6.94" fill="#bdff42"/>
<rect x="48.80" y="152.64" width="6.94" height="6.94" fill="#ff4c00"/>
<rect x="55.14" y="152.64" width="6.94" height="6.94" fill="#f7ff08"/>
<rect x="61.47" y="152.64" width="6.94" height="6.94" fill="#d8ff27"/>
<rect x="67.81" y="152.64" width="6.94" height="6.94" fill="#80ff80"/>
<rect x="74.15" y="152.64" width="6.94" height="6.94" fill="#f7ff08"/>
<rect x="80.48" y="152.64" width="6.94" height="6.94" fill="#ffd500"/>
<rect x="86.82" y="152.64" width="6.94" height="6.94" fill="#0090ff"/>
<rect x="93.15" y="152.64" width="6.94" height="6.94" fill="#f7ff08"/>
<rect x="99.49" y="152.64" width="6.94" height="6.94" fill="#ffd500"/>
<rect x="105.82" y="152.64" width="6.94" height="6.94" fill="#f7ff08"/>
<rect x="112.16" y="152.64" width="6.94" height="6.94" fill="#d8ff27"/>
<rect x="118.49" y="152.64" width="6.94" height="6.94" fill="#f7ff08"/>
<rect x="124.83" y="152.64" width="6.94" height="6.94" fill="#d8ff27"/>
<rect x="131.16" y="152.64" width="6.94" height="6.94" fill="#5effa2"/>
<rect x="137.50" y="152.64" width="6.94" height="6.94" fill="#ffd500"/>
<rect x="143.84" y="152.64" width="6.94" height="6.94" fill="#0090ff"/>
<rect x="150.17" y="152.64" width="6.94" height="6.94" fill="#f7ff08"/>
<rect x="156.51" y="152.64" width="13.27" height="6.94" fill="#ff9100"/>
<rect x="169.18" y="152.64" width="6.94" height="6.94" fill="#ffd500"/>
<rect x="175.51" y="152.64" width="6.94" height="6.94" fill="#a2ff5e"/>
<rect x="181.85" y="152.64" width="13.27" height="6.94" fill="#f7ff08"/>
<rect x="194.52" y="152.64" width="13.27" height="6.94" fill="#00d4ff"/>
<rect x="207.19" y="152.64" width="6.94" height="6.94" fill="#1affe5"/>
<rect x="213.53" y="152.64" width="6.94" height="6.94" fill="#ff4c00"/>
<rect x="219.86" y="152.64" width="6.94" height="6.94" fill="#a2ff5e"/>
<rect x="226.20" y="152.64" width="6.94" height="6.94" fill="#0090ff"/>
<rect x="232.53" y="152.64" width="3.17" height="6.94" fill="#ff9100"/>
<rect x="39.30" y="158.98" width="3.77" height="6.94" fill="#ff0800"/>
<rect x="42.47" y="158.98" width="6.94" height="6.94" fill="#1affe5"/>
<rect x="48.80" y="158.98" width="6.94" height="6.94" fill="#f7ff08"/>
<rect x="55.14" y="158.98" width="6.94" height="6.94" fill="#1affe5"/>
<rect x="61.47" y="158.98" width="6.94" height="6.94" fill="#ffd500"/>
<rect x="67.81" y="158.98" width="6.94" height="6.94" fill="#f7ff08"/>
<rect x="74.15" y="158.98" width="6.94" height="6.94" fill="#ffd500"/>
<rect x="80.48" y="158.98" width="6.94" height="6.94" fill="#5effa2"/>
<rect x="86.82" y="158.98" width="6.94" height="6.94" fill="#f7ff08"/>
<rect x="93.15" y="158.98" width="6.94" height="6.94" fill="#00f6ff"/>
<rect x="99.49" y="158.98" width="6.94" height="6.94" fill="#ffd500"/>
<rect x="105.82" y="158.98" width="6.94" height="6.94" fill="#d8ff27"/>
<rect x="112.16" y="158.98" width="6.94" height="6.94" fill="#5effa2"/>
<rect x="118.49" y="158.98" width="6.94" height="6.94" fill="#ff9100"/>
<rect x="124.83" y="158.98" width="6.94" height="6.94" fill="#80ff80"/>
<rect x="131.16" y="158.98" width="6.94" height="6.94" fill="#d8ff27"/>
<rect x="137.50" y="158.98" width="6.94" height="6.94" fill="#ff4c00"/>
<rect x="143.84" y="158.98" width="6.94" height="6.94" fill="#006eff"/>
<rect x="150.17" y="158.98" width="6.94" height="6.94" fill="#c30000"/>
<rect x="156.51" y="158.98" width="6.94" height="6.94" fill="#0008ff"/>
<rect x="162.84" y="158.98" width="6.94" height="6.94" fill="#bdff42"/>
<rect x="169.18" y="158.98" width="6.94" height="6.94" fill="#d8ff27"/>
<rect x="175.51" y="158.98" width="6.94" height="6.94" fill="#004dff"/>
<rect x="181.85" y="158.98" width="6.94" height="6.94" fill="#80ff80"/>
<rect x="188.18" y="158.98" width="6.94" height="6.94" fill="#ffd500"/>
<rect x="194.52" y="158.98" width="6.94" height="6.94" fill="#d8ff27"/>
<rect x="200.85" y="158.98" width="6.94" height="6.94" fill="#1affe5"/>
<rect x="207.19" y="158.98" width="6.94" height="6.94" fill="#ffd500"/>
<rect x="213.53" y="158.98" width="6.94" height="6.94" fill="#00d4ff"/>
<rect x="219.86" y="158.98" width="6.94" height="6.94" fill="#ffd500"/>
<rect x="226.20" y="158.98" width="6.94" height="6.94" fill="#004dff"/>
<rect x="232.53" y="158.98" width="3.17" height="6.94" fill="#ff9100"/>
<rect x="39.30" y="165.32" width="3.77" height="6.94" fill="#1affe5"/>
<rect x="42.47" y="165.32" width="6.94" height="6.94" fill="#ff9100"/>
<rect x="48.80" y="165.32" width="6.94" height="6.94" fill="#00d4ff"/>
<rect x="55.14" y="165.32" width="6.94" height="6.94" fill="#5effa2"/>
<rect x="61.47" y="165.32" width="6.94" height="6.94" fill="#1affe5"/>
<rect x="67.81" y="165.32" width="6.94" height="6.94" fill="#d8ff27"/>
<rect x="74.15" y="165.32" width="6.94" height="6.94" fill="#3cffc3"/>
<rect x="80.48" y="165.32" width="6.94" height="6.94" fill="#ffd500"/>
<rect x="86.82" y="165.32" width="6.94" height="6.94" fill="#d8ff27"/>
<rect x="93.15" y="165.32" width="6.94" height="6.94" fill="#ff0800"/>
<rect x="99.49" y="165.32" width="6.94" height="6.94" fill="#1affe5"/>
<rect x="105.82" y="165.32" width="13.27" height="6.94" fill="#f7ff08"/>
<rect x="118.49" y="165.32" width="6.94" height="6.94" fill="#5effa2"/>
<rect x="124.83" y="165.32" width="6.94" height="6.94" fill="#3cffc3"/>
<rect x="131.16" y="165.32" width="6.94" height="6.94" fill="#f7ff08"/>
<rect x="137.50" y="165.32" width="6.94" height="6.94" fill="#1affe5"/>
<rect x="143.84" y="165.32" width="6.94" height="6.94" fill="#ff9100"/>
<rect x="150.17" y="165.32" width="6.94" height="6.94" fill="#1affe5"/>
<rect x="156.51" y="165.32" width="13.27" height="6.94" fill="#d8ff27"/>
<rect x="169.18" y="165.32" width="13.27" height="6.94" fill="#ff9100"/>
<rect x="181.85" y="165.32" width="6.94" height="6.94" fill="#0090ff"/>
<rect x="188.18" y="165.32" width="19.61" height="6.94" fill="#f7ff08"/>
<rect x="207.19" y="165.32" width="6.94" height="6.94" fill="#1affe5"/>
<rect x="213.53" y="165.32" width="6.94" height="6.94" fill="#c30000"/>
<rect x="219.86" y="165.32" width="6.94" height="6.94" fill="#d8ff27"/>
<rect x="226.20" y="165.32" width="6.94" height="6.94" fill="#00f6ff"/>
<rect x="232.53" y="165.32" width="3.17" height="6.94" fill="#f7ff08"/>
<rect x="39.30" y="171.66" width="10.10" height="6.94" fill="#d8ff27"/>
<rect x="48.80" y="171.66" width="6.94" height="6.94" fill="#ff4c00"/>
<rect x="55.14" y="171.66" width="6.94" height="6.94" fill="#f7ff08"/>
<rect x="61.47" y="171.66" width="6.94" height="6.94" fill="#5effa2"/>
<rect x="67.81" y="171.66" width="6.94" height="6.94" fill="#ff6e00"/>
<rect x="74.15" y="171.66" width="6.94" height="6.94" fill="#f7ff08"/>
<rect x="80.48" y="171.66" width="6.94" height="6.94" fill="#1affe5"/>
<rect x="86.82" y="171.66" width="6.94" height="6.94" fill="#f7ff08"/>
<rect x="93.15" y="171.66" width="6.94" height="6.94" fill="#0008ff"/>
<rect x="99.49" y="171.66" width="6.94" height="6.94" fill="#ff9100"/>
<rect x="105.82" y="171.66" width="6.94" height="6.94" fill="#1affe5"/>
<rect x="112.16" y="171.66" width="6.94" height="6.94" fill="#bdff42"/>
<rect x="118.49" y="171.66" width="6.94" height="6.94" fill="#a2ff5e"/>
<rect x="124.83" y="171.66" width="6.94" height="6.94" fill="#ff4c00"/>
<rect x="131.16" y="171.66" width="6.94" height="6.94" fill="#1affe5"/>
<rect x="137.50" y="171.66" width="6.94" height="6.94" fill="#a2ff5e"/>
<rect x="143.84" y="171.66" width="6.94" height="6.94" fill="#ff6e00"/>
<rect x="150.17" y="171.66" width="6.94" height="6.94" fill="#1affe5"/>
<rect x="156.51" y="171.66" width="6.94" height="6.94" fill="#f7ff08"/>
<rect x="162.84" y="171.66" width="6.94" height="6.94" fill="#a2ff5e"/>
<rect x="169.18" y="171.66" width="6.94" height="6.94" fill="#00d4ff"/>
<rect x="175.51" y="171.66" width="6.94" height="6.94" fill="#bdff42"/>
<rect x="181.85" y="171.66" width="6.94" height="6.94" fill="#f7ff08"/>
<rect x="188.18" y="171.66" width="6.94" height="6.94" fill="#1affe5"/>
<rect x="194.52" y="171.66" width="6.94" height="6.94" fill="#d8ff27"/>
<rect x="200.85" y="171.66" width="6.94" height="6.94" fill="#ffd500"/>
<rect x="207.19" y="171.66" width="6.94" height="6.94" fill="#1affe5"/>
<rect x="213.53" y="171.66" width="6.94" height="6.94" fill="#ffd500"/>
<rect x="219.86" y="171.66" width="6.94" height="6.94" fill="#00b2ff"/>
<rect x="226.20" y="171.66" width="6.94" height="6.94" fill="#ff6e00"/>
<rect x="232.53" y="171.66" width="3.17" height="6.94" fill="#ffd500"/>
<rect x="39.30" y="178.00" width="3.77" height="6.94" fill="#ffd500"/>
<rect x="42.47" y="178.00" width="13.27" height="6.94" fill="#5effa2"/>
<rect x="55.14" y="178.00" width="6.94" height="6.94" fill="#ffd500"/>
<rect x="61.47" y="178.00" width="6.94" height="6.94" fill="#3cffc3"/>
<rect x="67.81" y="178.00" width="13.27" height="6.94" fill="#a2ff5e"/>
<rect x="80.48" y="178.00" width="6.94" height="6.94" fill="#5effa2"/>
<rect x="86.82" y="178.00" width="6.94" height="6.94" fill="#ff6e00"/>
<rect x="93.15" y="178.00" width="6.94" height="6.94" fill="#00d4ff"/>
<rect x="99.49" y="178.00" width="6.94" height="6.94" fill="#ff9100"/>
<rect x="105.82" y="178.00" width="6.94" height="6.94" fill="#f7ff08"/>
<rect x="112.16" y="178.00" width="6.94" height="6.94" fill="#5effa2"/>
<rect x="118.49" y="178.00" width="6.94" height="6.94" fill="#ff9100"/>
<rect x="124.83" y="178.00" width="6.94" height="6.94" fill="#3cffc3"/>
<rect x="131.16" y="178.00" width="6.94" height="6.94" fill="#00f6ff"/>
<rect x="137.50" y="178.00" width="6.94" height="6.94" fill="#f7ff08"/>
<rect x="143.84" y="178.00" width="6.94" height="6.94" fill="#004dff"/>
<rect x="150.17" y="178.00" width="6.94" height="6.94" fill="#ff9100"/>
<rect x="156.51" y="178.00" width="6.94" height="6.94" fill="#d8ff27"/>
<rect x="162.84" y="178.00" width="6.94" height="6.94" fill="#ffd500"/>
<rect x="169.18" y="178.00" width="6.94" height="6.94" fill="#bdff42"/>
<rect x="175.51" y="178.00" width="6.94" height="6.94" fill="#5effa2"/>
<rect x="181.85" y="178.00" width="6.94" height="6.94" fill="#ff0800"/>
<rect x="188.18" y="178.00" width="6.94" height="6.94" fill="#1affe5"/>
<rect x="194.52" y="178.00" width="6.94" height="6.94" fill="#80ff80"/>
<rect x="200.85" y="178.00" width="6.94" height="6.94" fill="#5effa2"/>
<rect x="207.19" y="178.00" width="6.94" height="6.94" fill="#d8ff27"/>
<rect x="213.53" y="178.00" width="6.94" height="6.94" fill="#00b2ff"/>
<rect x="219.86" y="178.00" width="6.94" height="6.94" fill="#1affe5"/>
<rect x="226.20" y="178.00" width="6.94" height="6.94" fill="#ffd500"/>
<rect x="232.53" y="178.00" width="3.17" height="6.94" fill="#1affe5"/>
<rect x="39.30" y="184.34" width="3.77" height="6.94" fill="#f7ff08"/>
<rect x="42.47" y="184.34" width="6.94" height="6.94" fill="#ff4c00"/>
<rect x="48.80" y="184.34" width="6.94" height="6.94" fill="#bdff42"/>
<rect x="55.14" y="184.34" width="6.94" height="6.94" fill="#f7ff08"/>
<rect x="61.47" y="184.34" width="6.94" height="6.94" fill="#ffd500"/>
<rect x="67.81" y="184.34" width="6.94" height="6.94" fill="#f7ff08"/>
<rect x="74.15" y="184.34" width="6.94" height="6.94" fill="#ffd500"/>
<rect x="80.48" y="184.34" width="6.94" height="6.94" fill="#d8ff27"/>
<rect x="86.82" y="184.34" width="6.94" height="6.94" fill="#a2ff5e"/>
<rect x="93.15" y="184.34" width="6.94" height="6.94" fill="#ffd500"/>
<rect x="99.49" y="184.34" width="6.94" height="6.94" fill="#a2ff5e"/>
<rect x="105.82" y="184.34" width="6.94" height="6.94" fill="#d8ff27"/>
<rect x="112.16" y="184.34" width="6.94" height="6.94" fill="#f7ff08"/>
<rect x="118.49" y="184.34" width="6.94" height="6.94" fill="#3cffc3"/>
<rect x="124.83" y="184.34" width="6.94" height="6.94" fill="#d8ff27"/>
<rect x="131.16" y="184.34" width="6.94" height="6.94" fill="#ff0800"/>
<rect x="137.50" y="184.34" width="6.94" height="6.94" fill="#00b2ff"/>
<rect x="143.84" y="184.34" width="6.94" height="6.94" fill="#f7ff08"/>
<rect x="150.17" y="184.34" width="6.94" height="6.94" fill="#1affe5"/>
<rect x="156.51" y="184.34" width="6.94" height="6.94" fill="#3cffc3"/>
<rect x="162.84" y="184.34" width="6.94" height="6.94" fill="#00b2ff"/>
<rect x="169.18" y="184.34" width="6.94" height="6.94" fill="#ffd500"/>
<rect x="175.51" y="184.34" width="6.94" height="6.94" fill="#004dff"/>
<rect x="181.85" y="184.34" width="6.94" height="6.94" fill="#d8ff27"/>
<rect x="188.18" y="184.34" width="6.94" height="6.94" fill="#f7ff08"/>
<rect x="194.52" y="184.34" width="6.94" height="6.94" fill="#0008ff"/>
<rect x="200.85" y="184.34" width="6.94" height="6.94" fill="#ff0800"/>
<rect x="207.19" y="184.34" width="6.94" height="6.94" fill="#f7ff08"/>
<rect x="213.53" y="184.34" width="6.94" height="6.94" fill="#d8ff27"/>
<rect x="219.86" y="184.34" width="6.94" height="6.94" fill="#bdff42"/>
<rect x="226.20" y="184.34" width="6.94" height="6.94" fill="#ff9100"/>
<rect x="232.53" y="184.34" width="3.17" height="6.94" fill="#1affe5"/>
<rect x="39.30" y="190.68" width="3.77" height="6.94" fill="#004dff"/>
<rect x="42.47" y="190.68" width="6.94" height="6.94" fill="#5effa2"/>
<rect x="48.80" y="190.68" width="6.94" height="6.94" fill="#0008ff"/>
<rect x="55.14" y="190.68" width="6.94" height="6.94" fill="#ffb300"/>
<rect x="61.47" y="190.68" width="6.94" height="6.94" fill="#1affe5"/>
<rect x="67.81" y="190.68" width="6.94" height="6.94" fill="#a2ff5e"/>
<rect x="74.15" y="190.68" width="6.94" height="6.94" fill="#00b2ff"/>
<rect x="80.48" y="190.68" width="6.94" height="6.94" fill="#ffd500"/>
<rect x="86.82" y="190.68" width="6.94" height="6.94" fill="#d8ff27"/>
<rect x="93.15" y="190.68" width="13.27" height="6.94" fill="#1affe5"/>
<rect x="105.82" y="190.68" width="6.94" height="6.94" fill="#ff9100"/>
<rect x="112.16" y="190.68" width="6.94" height="6.94" fill="#00b2ff"/>
<rect x="118.49" y="190.68" width="6.94" height="6.94" fill="#5effa2"/>
<rect x="124.83" y="190.68" width="6.94" height="6.94" fill="#0000c3"/>
<rect x="131.16" y="190.68" width="13.27" height="6.94" fill="#ff9100"/>
<rect x="143.84" y="190.68" width="6.94" height="6.94" fill="#d8ff27"/>
<rect x="150.17" y="190.68" width="6.94" height="6.94" fill="#ff9100"/>
<rect x="156.51" y="190.68" width="6.94" height="6.94" fill="#ffd500"/>
<rect x="162.84" y="190.68" width="6.94" height="6.94" fill="#5effa2"/>
<rect x="169.18" y="190.68" width="6.94" height="6.94" fill="#ffd500"/>
<rect x="175.51" y="190.68" width="6.94" height="6.94" fill="#d8ff27"/>
<rect x="181.85" y="190.68" width="6.94" height="6.94" fill="#0008ff"/>
<rect x="188.18" y="190.68" width="6.94" height="6.94" fill="#f7ff08"/>
<rect x="194.52" y="190.68" width="6.94" height="6.94" fill="#5effa2"/>
<rect x="200.85" y="190.68" width="6.94" height="6.94" fill="#0090ff"/>
<rect x="207.19" y="190.68" width="6.94" height="6.94" fill="#ffd500"/>
<rect x="213.53" y="190.68" width="6.94" height="6.94" fill="#f7ff08"/>
<rect x="219.86" y="190.68" width="6.94" height="6.94" fill="#5effa2"/>
<rect x="226.20" y="190.68" width="6.94" height="6.94" fill="#00f6ff"/>
<rect x="232.53" y="190.68" width="3.17" height="6.94" fill="#5effa2"/>
<rect x="39.30" y="197.01" width="3.77" height="6.94" fill="#a2ff5e"/>
<rect x="42.47" y="197.01" width="6.94" height="6.94" fill="#d8ff27"/>
<rect x="48.80" y="197.01" width="6.94" height="6.94" fill="#5effa2"/>
<rect x="55.14" y="197.01" width="6.94" height="6.94" fill="#ff4c00"/>
<rect x="61.47" y="197.01" width="6.94" height="6.94" fill="#bdff42"/>
<rect x="67.81" y="197.01" width="6.94" height="6.94" fill="#ff9100"/>
<rect x="74.15" y="197.01" width="6.94" height="6.94" fill="#ff6e00"/>
<rect x="80.48" y="197.01" width="6.94" height="6.94" fill="#1affe5"/>
<rect x="86.82" y="197.01" width="6.94" height="6.94" fill="#ffd500"/>
<rect x="93.15" y="197.01" width="13.27" height="6.94" fill="#a2ff5e"/>
<rect x="105.82" y="197.01" width="6.94" height="6.94" fill="#ffd500"/>
<rect x="112.16" y="197.01" width="6.94" height="6.94" fill="#80ff80"/>
<rect x="118.49" y="197.01" width="6.94" height="6.94" fill="#ffd500"/>
<rect x="124.83" y="197.01" width="6.94" height="6.94" fill="#3cffc3"/>
<rect x="131.16" y="197.01" width="6.94" height="6.94" fill="#a2ff5e"/>
<rect x="137.50" y="197.01" width="6.94" height="6.94" fill="#5effa2"/>
<rect x="143.84" y="197.01" width="6.94" height="6.94" fill="#0090ff"/>
<rect x="150.17" y="197.01" width="6.94" height="6.94" fill="#a2ff5e"/>
<rect x="156.51" y="197.01" width="6.94" height="6.94" fill="#bdff42"/>
<rect x="162.84" y="197.01" width="6.94" height="6.94" fill="#d8ff27"/>
<rect x="169.18" y="197.01" width="6.94" height="6.94" fill="#a2ff5e"/>
<rect x="175.51" y="197.01" width="6.94" height="6.94" fill="#ff0800"/>
<rect x="181.85" y="197.01" width="6.94" height="6.94" fill="#bdff42"/>
<rect x="188.18" y="197.01" width="6.94" height="6.94" fill="#ff9100"/>
<rect x="194.52" y="197.01" width="6.94" height="6.94" fill="#5effa2"/>
<rect x="200.85" y="197.01" width="6.94" height="6.94" fill="#ff0800"/>
<rect x="207.19" y="197.01" width="6.94" height="6.94" fill="#1affe5"/>
<rect x="213.53" y="197.01" width="6.94" height="6.94" fill="#0090ff"/>
<rect x="219.86" y="197.01" width="6.94" height="6.94" fill="#ffb300"/>
<rect x="226.20" y="197.01" width="6.94" height="6.94" fill="#f7ff08"/>
<rect x="232.53" y="197.01" width="3.17" height="6.94" fill="#1affe5"/>
<rect x="39.30" y="203.35" width="3.77" height="6.94" fill="#ff9100"/>
<rect x="42.47" y="203.35" width="6.94" height="6.94" fill="#d8ff27"/>
<rect x="48.80" y="203.35" width="6.94" height="6.94" fill="#1affe5"/>
<rect x="55.14" y="203.35" width="6.94" height="6.94" fill="#f7ff08"/>
<rect x="61.47" y="203.35" width="6.94" height="6.94" fill="#d8ff27"/>
<rect x="67.81" y="203.35" width="6.94" height="6.94" fill="#1affe5"/>
<rect x="74.15" y="203.35" width="6.94" height="6.94" fill="#0090ff"/>
<rect x="80.48" y="203.35" width="6.94" height="6.94" fill="#3cffc3"/>
<rect x="86.82" y="203.35" width="6.94" height="6.94" fill="#a2ff5e"/>
<rect x="93.15" y="203.35" width="6.94" height="6.94" fill="#80ff80"/>
<rect x="99.49" y="203.35" width="6.94" height="6.94" fill="#ff6e00"/>
<rect x="105.82" y="203.35" width="6.94" height="6.94" fill="#bdff42"/>
<rect x="112.16" y="203.35" width="6.94" height="6.94" fill="#80ff80"/>
<rect x="118.49" y="203.35" width="6.94" height="6.94" fill="#ffd500"/>
<rect x="124.83" y="203.35" width="6.94" height="6.94" fill="#f7ff08"/>
<rect x="131.16" y="203.35" width="6.94" height="6.94" fill="#3cffc3"/>
<rect x="137.50" y="203.35" width="13.27" height="6.94" fill="#f7ff08"/>
<rect x="150.17" y="203.35" width="6.94" height="6.94" fill="#a2ff5e"/>
<rect x="156.51" y="203.35" width="6.94" height="6.94" fill="#1affe5"/>
<rect x="162.84" y="203.35" width="6.94" height="6.94" fill="#ffd500"/>
<rect x="169.18" y="203.35" width="6.94" height="6.94" fill="#bdff42"/>
<rect x="175.51" y="203.35" width="6.94" height="6.94" fill="#004dff"/>
<rect x="181.85" y="203.35" width="6.94" height="6.94" fill="#1affe5"/>
<rect x="188.18" y="203.35" width="6.94" height="6.94" fill="#80ff80"/>
<rect x="194.52" y="203.35" width="6.94" height="6.94" fill="#ff6e00"/>
<rect x="200.85" y="203.35" width="6.94" height="6.94" fill="#00d4ff"/>
<rect x="207.19" y="203.35" width="6.94" height="6.94" fill="#f7ff08"/>
<rect x="213.53" y="203.35" width="6.94" height="6.94" fill="#ff9100"/>
<rect x="219.86" y="203.35" width="6.94" height="6.94" fill="#d8ff27"/>
<rect x="226.20" y="203.35" width="6.94" height="6.94" fill="#ff9100"/>
<rect x="232.53" y="203.35" width="3.17" height="6.94" fill="#1affe5"/>
<rect x="39.30" y="209.69" width="3.77" height="6.94" fill="#a2ff5e"/>
<rect x="42.47" y="209.69" width="6.94" height="6.94" fill="#ff4c00"/>
<rect x="48.80" y="209.69" width="6.94" height="6.94" fill="#f7ff08"/>
<rect x="55.14" y="209.69" width="6.94" height="6.94" fill="#ff9100"/>
<rect x="61.47" y="209.69" width="6.94" height="6.94" fill="#004dff"/>
<rect x="67.81" y="209.69" width="6.94" height="6.94" fill="#d8ff27"/>
<rect x="74.15" y="209.69" width="6.94" height="6.94" fill="#ffb300"/>
<rect x="80.48" y="209.69" width="6.94" height="6.94" fill="#ff9100"/>
<rect x="86.82" y="209.69" width="6.94" height="6.94" fill="#1affe5"/>
<rect x="93.15" y="209.69" width="6.94" height="6.94" fill="#f7ff08"/>
<rect x="99.49" y="209.69" width="6.94" height="6.94" fill="#3cffc3"/>
<rect x="105.82" y="209.69" width="13.27" height="6.94" fill="#d8ff27"/>
<rect x="118.49" y="209.69" width="6.94" height="6.94" fill="#1affe5"/>
<rect x="124.83" y="209.69" width="6.94" height="6.94" fill="#ffd500"/>
<rect x="131.16" y="209.69" width="6.94" height="6.94" fill="#80ff80"/>
<rect x="137.50" y="209.69" width="6.94" height="6.94" fill="#5effa2"/>
<rect x="143.84" y="209.69" width="6.94" height="6.94" fill="#3cffc3"/>
<rect x="150.17" y="209.69" width="6.94" height="6.94" fill="#ff6e00"/>
<rect x="156.51" y="209.69" width="6.94" height="6.94" fill="#5effa2"/>
<rect x="162.84" y="209.69" width="6.94" height="6.94" fill="#ffd500"/>
<rect x="169.18" y="209.69" width="6.94" height="6.94" fill="#5effa2"/>
<rect x="175.51" y="209.69" width="6.94" height="6.94" fill="#ff9100"/>
<rect x="181.85" y="209.69" width="6.94" height="6.94" fill="#800000"/>
<rect x="188.18" y="209.69" width="6.94" height="6.94" fill="#004dff"/>
<rect x="194.52" y="209.69" width="6.94" height="6.94" fill="#ff4c00"/>
<rect x="200.85" y="209.69" width="6.94" height="6.94" fill="#0090ff"/>
<rect x="207.19" y="209.69" width="6.94" height="6.94" fill="#ff6e00"/>
<rect x="213.53" y="209.69" width="6.94" height="6.94" fill="#d8ff27"/>
<rect x="219.86" y="209.69" width="13.27" height="6.94" fill="#00d4ff"/>
<rect x="232.53" y="209.69" width="3.17" height="6.94" fill="#ff9100"/>
<rect x="39.30" y="216.03" width="3.77" height="3.17" fill="#d8ff27"/>
<rect x="42.47" y="216.03" width="6.94" height="3.17" fill="#1affe5"/>
<rect x="48.80" y="216.03" width="6.94" height="3.17" fill="#3cffc3"/>
<rect x="55.14" y="216.03" width="6.94" height="3.17" fill="#ff9100"/>
<rect x="61.47" y="216.03" width="6.94" height="3.17" fill="#f7ff08"/>
<rect x="67.81" y="216.03" width="6.94" height="3.17" fill="#a2ff5e"/>
<rect x="74.15" y="216.03" width="6.94" height="3.17" fill="#ffd500"/>
<rect x="80.48" y="216.03" width="6.94" height="3.17" fill="#3cffc3"/>
<rect x="86.82" y="216.03" width="6.94" height="3.17" fill="#00d4ff"/>
<rect x="93.15" y="216.03" width="6.94" height="3.17" fill="#bdff42"/>
<rect x="99.49" y="216.03" width="6.94" height="3.17" fill="#1affe5"/>
<rect x="105.82" y="216.03" width="6.94" height="3.17" fill="#d8ff27"/>
<rect x="112.16" y="216.03" width="6.94" height="3.17" fill="#ff9100"/>
<rect x="118.49" y="216.03" width="6.94" height="3.17" fill="#a2ff5e"/>
<rect x="124.83" y="216.03" width="6.94" height="3.17" fill="#80ff80"/>
<rect x="131.16" y="216.03" width="6.94" height="3.17" fill="#ff9100"/>
<rect x="137.50" y="216.03" width="6.94" height="3.17" fill="#ffd500"/>
<rect x="143.84" y="216.03" width="6.94" height="3.17" fill="#a2ff5e"/>
<rect x="150.17" y="216.03" width="6.94" height="3.17" fill="#ff9100"/>
<rect x="156.51" y="216.03" width="6.94" height="3.17" fill="#1affe5"/>
<rect x="162.84" y="216.03" width="6.94" height="3.17" fill="#0008ff"/>
<rect x="169.18" y="216.03" width="6.94" height="3.17" fill="#ffb300"/>
<rect x="175.51" y="216.03" width="6.94" height="3.17" fill="#ff9100"/>
<rect x="181.85" y="216.03" width="6.94" height="3.17" fill="#0008ff"/>
<rect x="188.18" y="216.03" width="6.94" height="3.17" fill="#5effa2"/>
<rect x="194.52" y="216.03" width="6.94" height="3.17" fill="#3cffc3"/>
<rect x="200.85" y="216.03" width="6.94" height="3.17" fill="#0090ff"/>
<rect x="207.19" y="216.03" width="6.94" height="3.17" fill="#a2ff5e"/>
<rect x="213.53" y="216.03" width="6.94" height="3.17" fill="#00d4ff"/>
<rect x="219.86" y="216.03" width="6.94" height="3.17" fill="#0090ff"/>
<rect x="226.20" y="216.03" width="6.94" height="3.17" fill="#ff0800"/>
<rect x="232.53" y="216.03" width="3.17" height="3.17" fill="#1affe5"/></g>
<g filter="url(#soft)"><rect x="312.00" y="19.00" width="3.82" height="3.82" fill="#0038ff"/>
<rect x="315.22" y="19.00" width="19.94" height="3.82" fill="#0016ff"/>
<rect x="334.56" y="19.00" width="7.05" height="3.82" fill="#0038ff"/>
<rect x="341.00" y="19.00" width="7.05" height="3.82" fill="#0016ff"/>
<rect x="347.45" y="19.00" width="7.05" height="3.82" fill="#0000e6"/>
<rect x="353.89" y="19.00" width="7.05" height="3.82" fill="#0016ff"/>
<rect x="360.34" y="19.00" width="13.49" height="3.82" fill="#0038ff"/>
<rect x="373.23" y="19.00" width="13.49" height="3.82" fill="#0016ff"/>
<rect x="386.12" y="19.00" width="7.05" height="3.82" fill="#0000e6"/>
<rect x="392.56" y="19.00" width="13.49" height="3.82" fill="#0038ff"/>
<rect x="405.45" y="19.00" width="32.83" height="3.82" fill="#0016ff"/>
<rect x="437.68" y="19.00" width="7.05" height="3.82" fill="#0038ff"/>
<rect x="444.13" y="19.00" width="7.05" height="3.82" fill="#0000e6"/>
<rect x="450.57" y="19.00" width="7.05" height="3.82" fill="#0008ff"/>
<rect x="457.02" y="19.00" width="26.38" height="3.82" fill="#0016ff"/>
<rect x="482.80" y="19.00" width="7.05" height="3.82" fill="#005aff"/>
<rect x="489.24" y="19.00" width="7.05" height="3.82" fill="#007cff"/>
<rect x="495.69" y="19.00" width="16.11" height="3.82" fill="#0016ff"/>
<rect x="312.00" y="22.22" width="3.82" height="7.04" fill="#0038ff"/>
<rect x="315.22" y="22.22" width="7.05" height="7.04" fill="#0016ff"/>
<rect x="321.67" y="22.22" width="13.49" height="7.04" fill="#0008ff"/>
<rect x="334.56" y="22.22" width="7.05" height="7.04" fill="#0038ff"/>
<rect x="341.00" y="22.22" width="13.49" height="7.04" fill="#0008ff"/>
<rect x="353.89" y="22.22" width="7.05" height="7.04" fill="#0038ff"/>
<rect x="360.34" y="22.22" width="19.94" height="7.04" fill="#0016ff"/>
<rect x="379.67" y="22.22" width="7.05" height="7.04" fill="#0038ff"/>
<rect x="386.12" y="22.22" width="13.49" height="7.04" fill="#005aff"/>
<rect x="399.01" y="22.22" width="13.49" height="7.04" fill="#0038ff"/>
<rect x="411.90" y="22.22" width="7.05" height="7.04" fill="#005aff"/>
<rect x="418.35" y="22.22" width="7.05" height="7.04" fill="#0008ff"/>
<rect x="424.79" y="22.22" width="7.05" height="7.04" fill="#0038ff"/>
<rect x="431.24" y="22.22" width="13.49" height="7.04" fill="#0016ff"/>
<rect x="444.13" y="22.22" width="7.05" height="7.04" fill="#0038ff"/>
<rect x="450.57" y="22.22" width="7.05" height="7.04" fill="#0000c3"/>
<rect x="457.02" y="22.22" width="7.05" height="7.04" fill="#0038ff"/>
<rect x="463.46" y="22.22" width="7.05" height="7.04" fill="#005aff"/>
<rect x="469.91" y="22.22" width="7.05" height="7.04" fill="#0016ff"/>
<rect x="476.35" y="22.22" width="7.05" height="7.04" fill="#005aff"/>
<rect x="482.80" y="22.22" width="19.94" height="7.04" fill="#0016ff"/>
<rect x="502.13" y="22.22" width="7.05" height="7.04" fill="#0008ff"/>
<rect x="508.58" y="22.22" width="3.22" height="7.04" fill="#0016ff"/>
<rect x="312.00" y="28.66" width="10.27" height="7.04" fill="#0016ff"/>
<rect x="321.67" y="28.66" width="13.49" height="7.04" fill="#0008ff"/>
<rect x="334.56" y="28.66" width="7.05" height="7.04" fill="#0016ff"/>
<rect x="341.00" y="28.66" width="7.05" height="7.04" fill="#0000e6"/>
<rect x="347.45" y="28.66" width="7.05" height="7.04" fill="#0008ff"/>
<rect x="353.89" y="28.66" width="13.49" height="7.04" fill="#0038ff"/>
<rect x="366.78" y="28.66" width="7.05" height="7.04" fill="#0000e6"/>
<rect x="373.23" y="28.66" width="26.38" height="7.04" fill="#0016ff"/>
<rect x="399.01" y="28.66" width="13.49" height="7.04" fill="#005aff"/>
<rect x="411.90" y="28.66" width="7.05" height="7.04" fill="#0008ff"/>
<rect x="418.35" y="28.66" width="13.49" height="7.04" fill="#0016ff"/>
<rect x="431.24" y="28.66" width="7.05" height="7.04" fill="#0038ff"/>
<rect x="437.68" y="28.66" width="7.05" height="7.04" fill="#0016ff"/>
<rect x="444.13" y="28.66" width="7.05" height="7.04" fill="#0038ff"/>
<rect x="450.57" y="28.66" width="32.83" height="7.04" fill="#0016ff"/>
<rect x="482.80" y="28.66" width="7.05" height="7.04" fill="#005aff"/>
<rect x="489.24" y="28.66" width="7.05" height="7.04" fill="#0038ff"/>
<rect x="495.69" y="28.66" width="7.05" height="7.04" fill="#0016ff"/>
<rect x="502.13" y="28.66" width="7.05" height="7.04" fill="#0008ff"/>
<rect x="508.58" y="28.66" width="3.22" height="7.04" fill="#0038ff"/>
<rect x="312.00" y="35.10" width="3.82" height="7.04" fill="#0016ff"/>
<rect x="315.22" y="35.10" width="7.05" height="7.04" fill="#0000e6"/>
<rect x="321.67" y="35.10" width="7.05" height="7.04" fill="#0038ff"/>
<rect x="328.11" y="35.10" width="7.05" height="7.04" fill="#005aff"/>
<rect x="334.56" y="35.10" width="13.49" height="7.04" fill="#0008ff"/>
<rect x="347.45" y="35.10" width="7.05" height="7.04" fill="#005aff"/>
<rect x="353.89" y="35.10" width="7.05" height="7.04" fill="#0016ff"/>
<rect x="360.34" y="35.10" width="7.05" height="7.04" fill="#0008ff"/>
<rect x="366.78" y="35.10" width="13.49" height="7.04" fill="#0016ff"/>
<rect x="379.67" y="35.10" width="7.05" height="7.04" fill="#005aff"/>
<rect x="386.12" y="35.10" width="13.49" height="7.04" fill="#0000e6"/>
<rect x="399.01" y="35.10" width="26.38" height="7.04" fill="#0016ff"/>
<rect x="424.79" y="35.10" width="7.05" height="7.04" fill="#0008ff"/>
<rect x="431.24" y="35.10" width="13.49" height="7.04" fill="#0016ff"/>
<rect x="444.13" y="35.10" width="7.05" height="7.04" fill="#007cff"/>
<rect x="450.57" y="35.10" width="7.05" height="7.04" fill="#0038ff"/>
<rect x="457.02" y="35.10" width="13.49" height="7.04" fill="#0016ff"/>
<rect x="469.91" y="35.10" width="13.49" height="7.04" fill="#0038ff"/>
<rect x="482.80" y="35.10" width="7.05" height="7.04" fill="#0000c3"/>
<rect x="489.24" y="35.10" width="7.05" height="7.04" fill="#0038ff"/>
<rect x="495.69" y="35.10" width="7.05" height="7.04" fill="#0016ff"/>
<rect x="502.13" y="35.10" width="9.67" height="7.04" fill="#0038ff"/>
<rect x="312.00" y="41.54" width="16.71" height="7.04" fill="#0016ff"/>
<rect x="328.11" y="41.54" width="7.05" height="7.04" fill="#005aff"/>
<rect x="334.56" y="41.54" width="13.49" height="7.04" fill="#0016ff"/>
<rect x="347.45" y="41.54" width="7.05" height="7.04" fill="#0000e6"/>
<rect x="353.89" y="41.54" width="7.05" height="7.04" fill="#0038ff"/>
<rect x="360.34" y="41.54" width="7.05" height="7.04" fill="#0016ff"/>
<rect x="366.78" y="41.54" width="7.05" height="7.04" fill="#0038ff"/>
<rect x="373.23" y="41.54" width="7.05" height="7.04" fill="#0016ff"/>
<rect x="379.67" y="41.54" width="13.49" height="7.04" fill="#0038ff"/>
<rect x="392.56" y="41.54" width="26.38" height="7.04" fill="#0016ff"/>
<rect x="418.35" y="41.54" width="7.05" height="7.04" fill="#0008ff"/>
<rect x="424.79" y="41.54" width="7.05" height="7.04" fill="#0038ff"/>
<rect x="431.24" y="41.54" width="7.05" height="7.04" fill="#0016ff"/>
<rect x="437.68" y="41.54" width="13.49" height="7.04" fill="#0000e6"/>
<rect x="450.57" y="41.54" width="7.05" height="7.04" fill="#0016ff"/>
<rect x="457.02" y="41.54" width="7.05" height="7.04" fill="#005aff"/>
<rect x="463.46" y="41.54" width="7.05" height="7.04" fill="#0016ff"/>
<rect x="469.91" y="41.54" width="7.05" height="7.04" fill="#005aff"/>
<rect x="476.35" y="41.54" width="19.94" height="7.04" fill="#0016ff"/>
<rect x="495.69" y="41.54" width="7.05" height="7.04" fill="#005aff"/>
<rect x="502.13" y="41.54" width="7.05" height="7.04" fill="#0016ff"/>
<rect x="508.58" y="41.54" width="3.22" height="7.04" fill="#005aff"/>
<rect x="312.00" y="47.97" width="3.82" height="7.04" fill="#0016ff"/>
<rect x="315.22" y="47.97" width="13.49" height="7.04" fill="#0038ff"/>
<rect x="328.11" y="47.97" width="7.05" height="7.04" fill="#007cff"/>
<rect x="334.56" y="47.97" width="26.38" height="7.04" fill="#0016ff"/>
<rect x="360.34" y="47.97" width="7.05" height="7.04" fill="#0038ff"/>
<rect x="366.78" y="47.97" width="7.05" height="7.04" fill="#0016ff"/>
<rect x="373.23" y="47.97" width="19.94" height="7.04" fill="#0038ff"/>
<rect x="392.56" y="47.97" width="7.05" height="7.04" fill="#0008ff"/>
<rect x="399.01" y="47.97" width="13.49" height="7.04" fill="#005aff"/>
<rect x="411.90" y="47.97" width="7.05" height="7.04" fill="#0038ff"/>
<rect x="418.35" y="47.97" width="7.05" height="7.04" fill="#0008ff"/>
<rect x="424.79" y="47.97" width="7.05" height="7.04" fill="#0000e6"/>
<rect x="431.24" y="47.97" width="7.05" height="7.04" fill="#0016ff"/>
<rect x="437.68" y="47.97" width="7.05" height="7.04" fill="#005aff"/>
<rect x="444.13" y="47.97" width="7.05" height="7.04" fill="#0038ff"/>
<rect x="450.57" y="47.97" width="7.05" height="7.04" fill="#0016ff"/>
<rect x="457.02" y="47.97" width="7.05" height="7.04" fill="#005aff"/>
<rect x="463.46" y="47.97" width="19.94" height="7.04" fill="#0008ff"/>
<rect x="482.80" y="47.97" width="7.05" height="7.04" fill="#0038ff"/>
<rect x="489.24" y="47.97" width="7.05" height="7.04" fill="#0016ff"/>
<rect x="495.69" y="47.97" width="7.05" height="7.04" fill="#007cff"/>
<rect x="502.13" y="47.97" width="9.67" height="7.04" fill="#0016ff"/>
<rect x="312.00" y="54.41" width="16.71" height="7.04" fill="#0016ff"/>
<rect x="328.11" y="54.41" width="7.05" height="7.04" fill="#005aff"/>
<rect x="334.56" y="54.41" width="7.05" height="7.04" fill="#0000e6"/>
<rect x="341.00" y="54.41" width="7.05" height="7.04" fill="#0008ff"/>
<rect x="347.45" y="54.41" width="7.05" height="7.04" fill="#005aff"/>
<rect x="353.89" y="54.41" width="7.05" height="7.04" fill="#0008ff"/>
<rect x="360.34" y="54.41" width="13.49" height="7.04" fill="#0016ff"/>
<rect x="373.23" y="54.41" width="7.05" height="7.04" fill="#0008ff"/>
<rect x="379.67" y="54.41" width="7.05" height="7.04" fill="#007cff"/>
<rect x="386.12" y="54.41" width="13.49" height="7.04" fill="#0000e6"/>
<rect x="399.01" y="54.41" width="7.05" height="7.04" fill="#0016ff"/>
<rect x="405.45" y="54.41" width="7.05" height="7.04" fill="#005aff"/>
<rect x="411.90" y="54.41" width="7.05" height="7.04" fill="#0016ff"/>
<rect x="418.35" y="54.41" width="7.05" height="7.04" fill="#0000c3"/>
<rect x="424.79" y="54.41" width="7.05" height="7.04" fill="#0000e6"/>
<rect x="431.24" y="54.41" width="7.05" height="7.04" fill="#0008ff"/>
<rect x="437.68" y="54.41" width="7.05" height="7.04" fill="#005aff"/>
<rect x="444.13" y="54.41" width="7.05" height="7.04" fill="#0038ff"/>
<rect x="450.57" y="54.41" width="7.05" height="7.04" fill="#0016ff"/>
<rect x="457.02" y="54.41" width="7.05" height="7.04" fill="#00a5ff"/>
<rect x="463.46" y="54.41" width="13.49" height="7.04" fill="#0038ff"/>
<rect x="476.35" y="54.41" width="7.05" height="7.04" fill="#0016ff"/>
<rect x="482.80" y="54.41" width="7.05" height="7.04" fill="#0000e6"/>
<rect x="489.24" y="54.41" width="13.49" height="7.04" fill="#0016ff"/>
<rect x="502.13" y="54.41" width="7.05" height="7.04" fill="#0038ff"/>
<rect x="508.58" y="54.41" width="3.22" height="7.04" fill="#0016ff"/>
<rect x="312.00" y="60.85" width="3.82" height="7.04" fill="#0038ff"/>
<rect x="315.22" y="60.85" width="7.05" height="7.04" fill="#00a5ff"/>
<rect x="321.67" y="60.85" width="7.05" height="7.04" fill="#0016ff"/>
<rect x="328.11" y="60.85" width="7.05" height="7.04" fill="#0008ff"/>
<rect x="334.56" y="60.85" width="7.05" height="7.04" fill="#005aff"/>
<rect x="341.00" y="60.85" width="7.05" height="7.04" fill="#0008ff"/>
<rect x="347.45" y="60.85" width="7.05" height="7.04" fill="#0016ff"/>
<rect x="353.89" y="60.85" width="7.05" height="7.04" fill="#0000c3"/>
<rect x="360.34" y="60.85" width="13.49" height="7.04" fill="#0008ff"/>
<rect x="373.23" y="60.85" width="26.38" height="7.04" fill="#0016ff"/>
<rect x="399.01" y="60.85" width="7.05" height="7.04" fill="#0000e6"/>
<rect x="405.45" y="60.85" width="7.05" height="7.04" fill="#0016ff"/>
<rect x="411.90" y="60.85" width="7.05" height="7.04" fill="#0000e6"/>
<rect x="418.35" y="60.85" width="7.05" height="7.04" fill="#0016ff"/>
<rect x="424.79" y="60.85" width="7.05" height="7.04" fill="#005aff"/>
<rect x="431.24" y="60.85" width="7.05" height="7.04" fill="#0016ff"/>
<rect x="437.68" y="60.85" width="7.05" height="7.04" fill="#0008ff"/>
<rect x="444.13" y="60.85" width="13.49" height="7.04" fill="#0038ff"/>
<rect x="457.02" y="60.85" width="13.49" height="7.04" fill="#0008ff"/>
<rect x="469.91" y="60.85" width="7.05" height="7.04" fill="#0000c3"/>
<rect x="476.35" y="60.85" width="7.05" height="7.04" fill="#0008ff"/>
<rect x="482.80" y="60.85" width="7.05" height="7.04" fill="#0000e6"/>
<rect x="489.24" y="60.85" width="7.05" height="7.04" fill="#0016ff"/>
<rect x="495.69" y="60.85" width="13.49" height="7.04" fill="#005aff"/>
<rect x="508.58" y="60.85" width="3.22" height="7.04" fill="#0038ff"/>
<rect x="312.00" y="67.29" width="3.82" height="7.04" fill="#0008ff"/>
<rect x="315.22" y="67.29" width="7.05" height="7.04" fill="#0016ff"/>
<rect x="321.67" y="67.29" width="7.05" height="7.04" fill="#005aff"/>
<rect x="328.11" y="67.29" width="7.05" height="7.04" fill="#0016ff"/>
<rect x="334.56" y="67.29" width="13.49" height="7.04" fill="#0000e6"/>
<rect x="347.45" y="67.29" width="7.05" height="7.04" fill="#0038ff"/>
<rect x="353.89" y="67.29" width="13.49" height="7.04" fill="#0016ff"/>
<rect x="366.78" y="67.29" width="13.49" height="7.04" fill="#0038ff"/>
<rect x="379.67" y="67.29" width="13.49" height="7.04" fill="#0008ff"/>
<rect x="392.56" y="67.29" width="7.05" height="7.04" fill="#005aff"/>
<rect x="399.01" y="67.29" width="7.05" height="7.04" fill="#0038ff"/>
<rect x="405.45" y="67.29" width="7.05" height="7.04" fill="#0008ff"/>
<rect x="411.90" y="67.29" width="7.05" height="7.04" fill="#0038ff"/>
<rect x="418.35" y="67.29" width="7.05" height="7.04" fill="#005aff"/>
<rect x="424.79" y="67.29" width="7.05" height="7.04" fill="#0008ff"/>
<rect x="431.24" y="67.29" width="7.05" height="7.04" fill="#0038ff"/>
<rect x="437.68" y="67.29" width="13.49" height="7.04" fill="#0008ff"/>
<rect x="450.57" y="67.29" width="19.94" height="7.04" fill="#0038ff"/>
<rect x="469.91" y="67.29" width="7.05" height="7.04" fill="#005aff"/>
<rect x="476.35" y="67.29" width="7.05" height="7.04" fill="#0008ff"/>
<rect x="482.80" y="67.29" width="7.05" height="7.04" fill="#0016ff"/>
<rect x="489.24" y="67.29" width="7.05" height="7.04" fill="#005aff"/>
<rect x="495.69" y="67.29" width="13.49" height="7.04" fill="#0016ff"/>
<rect x="508.58" y="67.29" width="3.22" height="7.04" fill="#0000e6"/>
<rect x="312.00" y="73.73" width="3.82" height="7.04" fill="#0016ff"/>
<rect x="315.22" y="73.73" width="7.05" height="7.04" fill="#0000e6"/>
<rect x="321.67" y="73.73" width="7.05" height="7.04" fill="#0038ff"/>
<rect x="328.11" y="73.73" width="13.49" height="7.04" fill="#005aff"/>
<rect x="341.00" y="73.73" width="7.05" height="7.04" fill="#0016ff"/>
<rect x="347.45" y="73.73" width="13.49" height="7.04" fill="#0038ff"/>
<rect x="360.34" y="73.73" width="7.05" height="7.04" fill="#0016ff"/>
<rect x="366.78" y="73.73" width="13.49" height="7.04" fill="#0038ff"/>
<rect x="379.67" y="73.73" width="7.05" height="7.04" fill="#0016ff"/>
<rect x="386.12" y="73.73" width="7.05" height="7.04" fill="#007cff"/>
<rect x="392.56" y="73.73" width="7.05" height="7.04" fill="#0038ff"/>
<rect x="399.01" y="73.73" width="7.05" height="7.04" fill="#0000e6"/>
<rect x="405.45" y="73.73" width="7.05" height="7.04" fill="#0016ff"/>
<rect x="411.90" y="73.73" width="7.05" height="7.04" fill="#0008ff"/>
<rect x="418.35" y="73.73" width="7.05" height="7.04" fill="#0038ff"/>
<rect x="424.79" y="73.73" width="7.05" height="7.04" fill="#007cff"/>
<rect x="431.24" y="73.73" width="7.05" height="7.04" fill="#0038ff"/>
<rect x="437.68" y="73.73" width="7.05" height="7.04" fill="#007cff"/>
<rect x="444.13" y="73.73" width="13.49" height="7.04" fill="#0038ff"/>
<rect x="457.02" y="73.73" width="7.05" height="7.04" fill="#0016ff"/>
<rect x="463.46" y="73.73" width="7.05" height="7.04" fill="#0008ff"/>
<rect x="469.91" y="73.73" width="7.05" height="7.04" fill="#005aff"/>
<rect x="476.35" y="73.73" width="13.49" height="7.04" fill="#0016ff"/>
<rect x="489.24" y="73.73" width="7.05" height="7.04" fill="#005aff"/>
<rect x="495.69" y="73.73" width="13.49" height="7.04" fill="#0016ff"/>
<rect x="508.58" y="73.73" width="3.22" height="7.04" fill="#0038ff"/>
<rect x="312.00" y="80.17" width="3.82" height="7.04" fill="#0038ff"/>
<rect x="315.22" y="80.17" width="13.49" height="7.04" fill="#0016ff"/>
<rect x="328.11" y="80.17" width="7.05" height="7.04" fill="#0038ff"/>
<rect x="334.56" y="80.17" width="7.05" height="7.04" fill="#0016ff"/>
<rect x="341.00" y="80.17" width="7.05" height="7.04" fill="#0008ff"/>
<rect x="347.45" y="80.17" width="7.05" height="7.04" fill="#0000c3"/>
<rect x="353.89" y="80.17" width="19.94" height="7.04" fill="#0038ff"/>
<rect x="373.23" y="80.17" width="7.05" height="7.04" fill="#005aff"/>
<rect x="379.67" y="80.17" width="7.05" height="7.04" fill="#007cff"/>
<rect x="386.12" y="80.17" width="7.05" height="7.04" fill="#00a5ff"/>
<rect x="392.56" y="80.17" width="7.05" height="7.04" fill="#005aff"/>
<rect x="399.01" y="80.17" width="7.05" height="7.04" fill="#0016ff"/>
<rect x="405.45" y="80.17" width="7.05" height="7.04" fill="#0038ff"/>
<rect x="411.90" y="80.17" width="7.05" height="7.04" fill="#0000e6"/>
<rect x="418.35" y="80.17" width="7.05" height="7.04" fill="#0038ff"/>
<rect x="424.79" y="80.17" width="7.05" height="7.04" fill="#007cff"/>
<rect x="431.24" y="80.17" width="7.05" height="7.04" fill="#0038ff"/>
<rect x="437.68" y="80.17" width="7.05" height="7.04" fill="#005aff"/>
<rect x="444.13" y="80.17" width="13.49" height="7.04" fill="#007cff"/>
<rect x="457.02" y="80.17" width="7.05" height="7.04" fill="#005aff"/>
<rect x="463.46" y="80.17" width="13.49" height="7.04" fill="#0000e6"/>
<rect x="476.35" y="80.17" width="7.05" height="7.04" fill="#0016ff"/>
<rect x="482.80" y="80.17" width="7.05" height="7.04" fill="#005aff"/>
<rect x="489.24" y="80.17" width="7.05" height="7.04" fill="#0016ff"/>
<rect x="495.69" y="80.17" width="7.05" height="7.04" fill="#0008ff"/>
<rect x="502.13" y="80.17" width="7.05" height="7.04" fill="#0038ff"/>
<rect x="508.58" y="80.17" width="3.22" height="7.04" fill="#0016ff"/>
<rect x="312.00" y="86.61" width="3.82" height="7.04" fill="#0038ff"/>
<rect x="315.22" y="86.61" width="7.05" height="7.04" fill="#005aff"/>
<rect x="321.67" y="86.61" width="19.94" height="7.04" fill="#0008ff"/>
<rect x="341.00" y="86.61" width="19.94" height="7.04" fill="#0038ff"/>
<rect x="360.34" y="86.61" width="13.49" height="7.04" fill="#005aff"/>
<rect x="373.23" y="86.61" width="7.05" height="7.04" fill="#007cff"/>
<rect x="379.67" y="86.61" width="7.05" height="7.04" fill="#00a5ff"/>
<rect x="386.12" y="86.61" width="7.05" height="7.04" fill="#00d4ff"/>
<rect x="392.56" y="86.61" width="7.05" height="7.04" fill="#00a5ff"/>
<rect x="399.01" y="86.61" width="7.05" height="7.04" fill="#007cff"/>
<rect x="405.45" y="86.61" width="7.05" height="7.04" fill="#005aff"/>
<rect x="411.90" y="86.61" width="7.05" height="7.04" fill="#0008ff"/>
<rect x="418.35" y="86.61" width="7.05" height="7.04" fill="#0038ff"/>
<rect x="424.79" y="86.61" width="7.05" height="7.04" fill="#005aff"/>
<rect x="431.24" y="86.61" width="7.05" height="7.04" fill="#00d4ff"/>
<rect x="437.68" y="86.61" width="7.05" height="7.04" fill="#00f6ff"/>
<rect x="444.13" y="86.61" width="7.05" height="7.04" fill="#00d4ff"/>
<rect x="450.57" y="86.61" width="13.49" height="7.04" fill="#007cff"/>
<rect x="463.46" y="86.61" width="7.05" height="7.04" fill="#0038ff"/>
<rect x="469.91" y="86.61" width="7.05" height="7.04" fill="#005aff"/>
<rect x="476.35" y="86.61" width="7.05" height="7.04" fill="#0016ff"/>
<rect x="482.80" y="86.61" width="7.05" height="7.04" fill="#0000e6"/>
<rect x="489.24" y="86.61" width="7.05" height="7.04" fill="#0008ff"/>
<rect x="495.69" y="86.61" width="7.05" height="7.04" fill="#005aff"/>
<rect x="502.13" y="86.61" width="7.05" height="7.04" fill="#0008ff"/>
<rect x="508.58" y="86.61" width="3.22" height="7.04" fill="#0016ff"/>
<rect x="312.00" y="93.05" width="10.27" height="7.04" fill="#0016ff"/>
<rect x="321.67" y="93.05" width="19.94" height="7.04" fill="#0008ff"/>
<rect x="341.00" y="93.05" width="7.05" height="7.04" fill="#0016ff"/>
<rect x="347.45" y="93.05" width="13.49" height="7.04" fill="#0038ff"/>
<rect x="360.34" y="93.05" width="7.05" height="7.04" fill="#00f6ff"/>
<rect x="366.78" y="93.05" width="7.05" height="7.04" fill="#3cffc3"/>
<rect x="373.23" y="93.05" width="7.05" height="7.04" fill="#a2ff5e"/>
<rect x="379.67" y="93.05" width="7.05" height="7.04" fill="#c3ff3c"/>
<rect x="386.12" y="93.05" width="7.05" height="7.04" fill="#1affe5"/>
<rect x="392.56" y="93.05" width="7.05" height="7.04" fill="#00d4ff"/>
<rect x="399.01" y="93.05" width="13.49" height="7.04" fill="#007cff"/>
<rect x="411.90" y="93.05" width="7.05" height="7.04" fill="#0038ff"/>
<rect x="418.35" y="93.05" width="7.05" height="7.04" fill="#00d4ff"/>
<rect x="424.79" y="93.05" width="7.05" height="7.04" fill="#00f6ff"/>
<rect x="431.24" y="93.05" width="7.05" height="7.04" fill="#3cffc3"/>
<rect x="437.68" y="93.05" width="7.05" height="7.04" fill="#a2ff5e"/>
<rect x="444.13" y="93.05" width="7.05" height="7.04" fill="#c3ff3c"/>
<rect x="450.57" y="93.05" width="7.05" height="7.04" fill="#5effa2"/>
<rect x="457.02" y="93.05" width="7.05" height="7.04" fill="#00d4ff"/>
<rect x="463.46" y="93.05" width="7.05" height="7.04" fill="#0038ff"/>
<rect x="469.91" y="93.05" width="7.05" height="7.04" fill="#005aff"/>
<rect x="476.35" y="93.05" width="7.05" height="7.04" fill="#0008ff"/>
<rect x="482.80" y="93.05" width="7.05" height="7.04" fill="#005aff"/>
<rect x="489.24" y="93.05" width="13.49" height="7.04" fill="#0016ff"/>
<rect x="502.13" y="93.05" width="7.05" height="7.04" fill="#005aff"/>
<rect x="508.58" y="93.05" width="3.22" height="7.04" fill="#0016ff"/>
<rect x="312.00" y="99.48" width="3.82" height="7.04" fill="#0038ff"/>
<rect x="315.22" y="99.48" width="7.05" height="7.04" fill="#005aff"/>
<rect x="321.67" y="99.48" width="7.05" height="7.04" fill="#0008ff"/>
<rect x="328.11" y="99.48" width="7.05" height="7.04" fill="#0016ff"/>
<rect x="334.56" y="99.48" width="7.05" height="7.04" fill="#0038ff"/>
<rect x="341.00" y="99.48" width="7.05" height="7.04" fill="#0016ff"/>
<rect x="347.45" y="99.48" width="7.05" height="7.04" fill="#0038ff"/>
<rect x="353.89" y="99.48" width="7.05" height="7.04" fill="#007cff"/>
<rect x="360.34" y="99.48" width="7.05" height="7.04" fill="#5effa2"/>
<rect x="366.78" y="99.48" width="7.05" height="7.04" fill="#fff700"/>
<rect x="373.23" y="99.48" width="7.05" height="7.04" fill="#ffd500"/>
<rect x="379.67" y="99.48" width="7.05" height="7.04" fill="#ff9100"/>
<rect x="386.12" y="99.48" width="7.05" height="7.04" fill="#e5ff1a"/>
<rect x="392.56" y="99.48" width="7.05" height="7.04" fill="#3cffc3"/>
<rect x="399.01" y="99.48" width="7.05" height="7.04" fill="#00d4ff"/>
<rect x="405.45" y="99.48" width="7.05" height="7.04" fill="#00a5ff"/>
<rect x="411.90" y="99.48" width="7.05" height="7.04" fill="#00d4ff"/>
<rect x="418.35" y="99.48" width="7.05" height="7.04" fill="#1affe5"/>
<rect x="424.79" y="99.48" width="7.05" height="7.04" fill="#80ff80"/>
<rect x="431.24" y="99.48" width="7.05" height="7.04" fill="#e5ff1a"/>
<rect x="437.68" y="99.48" width="13.49" height="7.04" fill="#fff700"/>
<rect x="450.57" y="99.48" width="7.05" height="7.04" fill="#c3ff3c"/>
<rect x="457.02" y="99.48" width="7.05" height="7.04" fill="#1affe5"/>
<rect x="463.46" y="99.48" width="7.05" height="7.04" fill="#00f6ff"/>
<rect x="469.91" y="99.48" width="7.05" height="7.04" fill="#005aff"/>
<rect x="476.35" y="99.48" width="7.05" height="7.04" fill="#0000e6"/>
<rect x="482.80" y="99.48" width="7.05" height="7.04" fill="#0038ff"/>
<rect x="489.24" y="99.48" width="19.94" height="7.04" fill="#0016ff"/>
<rect x="508.58" y="99.48" width="3.22" height="7.04" fill="#0038ff"/>
<rect x="312.00" y="105.92" width="16.71" height="7.04" fill="#0038ff"/>
<rect x="328.11" y="105.92" width="7.05" height="7.04" fill="#0016ff"/>
<rect x="334.56" y="105.92" width="7.05" height="7.04" fill="#0000c3"/>
<rect x="341.00" y="105.92" width="7.05" height="7.04" fill="#0016ff"/>
<rect x="347.45" y="105.92" width="7.05" height="7.04" fill="#0038ff"/>
<rect x="353.89" y="105.92" width="7.05" height="7.04" fill="#00f6ff"/>
<rect x="360.34" y="105.92" width="7.05" height="7.04" fill="#c3ff3c"/>
<rect x="366.78" y="105.92" width="7.05" height="7.04" fill="#ffd500"/>
<rect x="373.23" y="105.92" width="7.05" height="7.04" fill="#ff0800"/>
<rect x="379.67" y="105.92" width="7.05" height="7.04" fill="#ff2a00"/>
<rect x="386.12" y="105.92" width="7.05" height="7.04" fill="#ff9100"/>
<rect x="392.56" y="105.92" width="7.05" height="7.04" fill="#ffd500"/>
<rect x="399.01" y="105.92" width="7.05" height="7.04" fill="#5effa2"/>
<rect x="405.45" y="105.92" width="13.49" height="7.04" fill="#00f6ff"/>
<rect x="418.35" y="105.92" width="7.05" height="7.04" fill="#a2ff5e"/>
<rect x="424.79" y="105.92" width="7.05" height="7.04" fill="#fff700"/>
<rect x="431.24" y="105.92" width="7.05" height="7.04" fill="#ff6e00"/>
<rect x="437.68" y="105.92" width="7.05" height="7.04" fill="#ff0800"/>
<rect x="444.13" y="105.92" width="7.05" height="7.04" fill="#ff2a00"/>
<rect x="450.57" y="105.92" width="7.05" height="7.04" fill="#ff9100"/>
<rect x="457.02" y="105.92" width="7.05" height="7.04" fill="#fff700"/>
<rect x="463.46" y="105.92" width="7.05" height="7.04" fill="#3cffc3"/>
<rect x="469.91" y="105.92" width="7.05" height="7.04" fill="#005aff"/>
<rect x="476.35" y="105.92" width="7.05" height="7.04" fill="#0016ff"/>
<rect x="482.80" y="105.92" width="7.05" height="7.04" fill="#0038ff"/>
<rect x="489.24" y="105.92" width="7.05" height="7.04" fill="#0016ff"/>
<rect x="495.69" y="105.92" width="7.05" height="7.04" fill="#0000e6"/>
<rect x="502.13" y="105.92" width="7.05" height="7.04" fill="#0008ff"/>
<rect x="508.58" y="105.92" width="3.22" height="7.04" fill="#0016ff"/>
<rect x="312.00" y="112.36" width="3.82" height="7.04" fill="#0016ff"/>
<rect x="315.22" y="112.36" width="7.05" height="7.04" fill="#0038ff"/>
<rect x="321.67" y="112.36" width="13.49" height="7.04" fill="#005aff"/>
<rect x="334.56" y="112.36" width="7.05" height="7.04" fill="#0016ff"/>
<rect x="341.00" y="112.36" width="7.05" height="7.04" fill="#0038ff"/>
<rect x="347.45" y="112.36" width="7.05" height="7.04" fill="#007cff"/>
<rect x="353.89" y="112.36" width="7.05" height="7.04" fill="#3cffc3"/>
<rect x="360.34" y="112.36" width="7.05" height="7.04" fill="#e5ff1a"/>
<rect x="366.78" y="112.36" width="7.05" height="7.04" fill="#ff6e00"/>
<rect x="373.23" y="112.36" width="7.05" height="7.04" fill="#ff0800"/>
<rect x="379.67" y="112.36" width="7.05" height="7.04" fill="#e50000"/>
<rect x="386.12" y="112.36" width="7.05" height="7.04" fill="#ff0800"/>
<rect x="392.56" y="112.36" width="7.05" height="7.04" fill="#ffb300"/>
<rect x="399.01" y="112.36" width="7.05" height="7.04" fill="#fff700"/>
<rect x="405.45" y="112.36" width="7.05" height="7.04" fill="#80ff80"/>
<rect x="411.90" y="112.36" width="7.05" height="7.04" fill="#1affe5"/>
<rect x="418.35" y="112.36" width="7.05" height="7.04" fill="#c3ff3c"/>
<rect x="424.79" y="112.36" width="7.05" height="7.04" fill="#ff9100"/>
<rect x="431.24" y="112.36" width="13.49" height="7.04" fill="#ff0800"/>
<rect x="444.13" y="112.36" width="7.05" height="7.04" fill="#a20000"/>
<rect x="450.57" y="112.36" width="7.05" height="7.04" fill="#ff2a00"/>
<rect x="457.02" y="112.36" width="7.05" height="7.04" fill="#fff700"/>
<rect x="463.46" y="112.36" width="7.05" height="7.04" fill="#5effa2"/>
<rect x="469.91" y="112.36" width="7.05" height="7.04" fill="#007cff"/>
<rect x="476.35" y="112.36" width="7.05" height="7.04" fill="#005aff"/>
<rect x="482.80" y="112.36" width="7.05" height="7.04" fill="#0000e6"/>
<rect x="489.24" y="112.36" width="7.05" height="7.04" fill="#0038ff"/>
<rect x="495.69" y="112.36" width="7.05" height="7.04" fill="#0000e6"/>
<rect x="502.13" y="112.36" width="7.05" height="7.04" fill="#0038ff"/>
<rect x="508.58" y="112.36" width="3.22" height="7.04" fill="#0000e6"/>
<rect x="312.00" y="118.80" width="3.82" height="7.04" fill="#0016ff"/>
<rect x="315.22" y="118.80" width="7.05" height="7.04" fill="#0008ff"/>
<rect x="321.67" y="118.80" width="7.05" height="7.04" fill="#0000c3"/>
<rect x="328.11" y="118.80" width="7.05" height="7.04" fill="#0008ff"/>
<rect x="334.56" y="118.80" width="13.49" height="7.04" fill="#005aff"/>
<rect x="347.45" y="118.80" width="7.05" height="7.04" fill="#007cff"/>
<rect x="353.89" y="118.80" width="7.05" height="7.04" fill="#1affe5"/>
<rect x="360.34" y="118.80" width="7.05" height="7.04" fill="#e5ff1a"/>
<rect x="366.78" y="118.80" width="7.05" height="7.04" fill="#ff4c00"/>
<rect x="373.23" y="118.80" width="7.05" height="7.04" fill="#ff2a00"/>
<rect x="379.67" y="118.80" width="7.05" height="7.04" fill="#c30000"/>
<rect x="386.12" y="118.80" width="7.05" height="7.04" fill="#ff0800"/>
<rect x="392.56" y="118.80" width="7.05" height="7.04" fill="#ffd500"/>
<rect x="399.01" y="118.80" width="7.05" height="7.04" fill="#c3ff3c"/>
<rect x="405.45" y="118.80" width="7.05" height="7.04" fill="#3cffc3"/>
<rect x="411.90" y="118.80" width="7.05" height="7.04" fill="#1affe5"/>
<rect x="418.35" y="118.80" width="7.05" height="7.04" fill="#c3ff3c"/>
<rect x="424.79" y="118.80" width="7.05" height="7.04" fill="#ffb300"/>
<rect x="431.24" y="118.80" width="7.05" height="7.04" fill="#ff0800"/>
<rect x="437.68" y="118.80" width="7.05" height="7.04" fill="#c30000"/>
<rect x="444.13" y="118.80" width="7.05" height="7.04" fill="#ff0800"/>
<rect x="450.57" y="118.80" width="7.05" height="7.04" fill="#ff4c00"/>
<rect x="457.02" y="118.80" width="7.05" height="7.04" fill="#fff700"/>
<rect x="463.46" y="118.80" width="7.05" height="7.04" fill="#80ff80"/>
<rect x="469.91" y="118.80" width="7.05" height="7.04" fill="#00d4ff"/>
<rect x="476.35" y="118.80" width="7.05" height="7.04" fill="#005aff"/>
<rect x="482.80" y="118.80" width="7.05" height="7.04" fill="#0038ff"/>
<rect x="489.24" y="118.80" width="7.05" height="7.04" fill="#0008ff"/>
<rect x="495.69" y="118.80" width="7.05" height="7.04" fill="#0016ff"/>
<rect x="502.13" y="118.80" width="9.67" height="7.04" fill="#0038ff"/>
<rect x="312.00" y="125.24" width="16.71" height="7.04" fill="#0008ff"/>
<rect x="328.11" y="125.24" width="7.05" height="7.04" fill="#0016ff"/>
<rect x="334.56" y="125.24" width="7.05" height="7.04" fill="#005aff"/>
<rect x="341.00" y="125.24" width="7.05" height="7.04" fill="#0038ff"/>
<rect x="347.45" y="125.24" width="7.05" height="7.04" fill="#007cff"/>
<rect x="353.89" y="125.24" width="7.05" height="7.04" fill="#1affe5"/>
<rect x="360.34" y="125.24" width="7.05" height="7.04" fill="#e5ff1a"/>
<rect x="366.78" y="125.24" width="7.05" height="7.04" fill="#ff9100"/>
<rect x="373.23" y="125.24" width="7.05" height="7.04" fill="#ff4c00"/>
<rect x="379.67" y="125.24" width="7.05" height="7.04" fill="#ff0800"/>
<rect x="386.12" y="125.24" width="7.05" height="7.04" fill="#ff9100"/>
<rect x="392.56" y="125.24" width="7.05" height="7.04" fill="#fff700"/>
<rect x="399.01" y="125.24" width="7.05" height="7.04" fill="#80ff80"/>
<rect x="405.45" y="125.24" width="7.05" height="7.04" fill="#00d4ff"/>
<rect x="411.90" y="125.24" width="7.05" height="7.04" fill="#00f6ff"/>
<rect x="418.35" y="125.24" width="7.05" height="7.04" fill="#3cffc3"/>
<rect x="424.79" y="125.24" width="7.05" height="7.04" fill="#fff700"/>
<rect x="431.24" y="125.24" width="19.94" height="7.04" fill="#ff4c00"/>
<rect x="450.57" y="125.24" width="7.05" height="7.04" fill="#ff9100"/>
<rect x="457.02" y="125.24" width="7.05" height="7.04" fill="#c3ff3c"/>
<rect x="463.46" y="125.24" width="7.05" height="7.04" fill="#1affe5"/>
<rect x="469.91" y="125.24" width="7.05" height="7.04" fill="#00d4ff"/>
<rect x="476.35" y="125.24" width="7.05" height="7.04" fill="#005aff"/>
<rect x="482.80" y="125.24" width="7.05" height="7.04" fill="#0038ff"/>
<rect x="489.24" y="125.24" width="13.49" height="7.04" fill="#0016ff"/>
<rect x="502.13" y="125.24" width="7.05" height="7.04" fill="#0000e6"/>
<rect x="508.58" y="125.24" width="3.22" height="7.04" fill="#0038ff"/>
<rect x="312.00" y="131.68" width="3.82" height="7.04" fill="#0016ff"/>
<rect x="315.22" y="131.68" width="19.94" height="7.04" fill="#005aff"/>
<rect x="334.56" y="131.68" width="7.05" height="7.04" fill="#0038ff"/>
<rect x="341.00" y="131.68" width="7.05" height="7.04" fill="#0016ff"/>
<rect x="347.45" y="131.68" width="7.05" height="7.04" fill="#007cff"/>
<rect x="353.89" y="131.68" width="7.05" height="7.04" fill="#00f6ff"/>
<rect x="360.34" y="131.68" width="7.05" height="7.04" fill="#80ff80"/>
<rect x="366.78" y="131.68" width="7.05" height="7.04" fill="#e5ff1a"/>
<rect x="373.23" y="131.68" width="13.49" height="7.04" fill="#fff700"/>
<rect x="386.12" y="131.68" width="7.05" height="7.04" fill="#e5ff1a"/>
<rect x="392.56" y="131.68" width="7.05" height="7.04" fill="#5effa2"/>
<rect x="399.01" y="131.68" width="7.05" height="7.04" fill="#1affe5"/>
<rect x="405.45" y="131.68" width="7.05" height="7.04" fill="#00d4ff"/>
<rect x="411.90" y="131.68" width="7.05" height="7.04" fill="#007cff"/>
<rect x="418.35" y="131.68" width="7.05" height="7.04" fill="#00f6ff"/>
<rect x="424.79" y="131.68" width="7.05" height="7.04" fill="#80ff80"/>
<rect x="431.24" y="131.68" width="13.49" height="7.04" fill="#fff700"/>
<rect x="444.13" y="131.68" width="7.05" height="7.04" fill="#ffb300"/>
<rect x="450.57" y="131.68" width="7.05" height="7.04" fill="#c3ff3c"/>
<rect x="457.02" y="131.68" width="7.05" height="7.04" fill="#80ff80"/>
<rect x="463.46" y="131.68" width="7.05" height="7.04" fill="#00f6ff"/>
<rect x="469.91" y="131.68" width="7.05" height="7.04" fill="#00a5ff"/>
<rect x="476.35" y="131.68" width="32.83" height="7.04" fill="#0038ff"/>
<rect x="508.58" y="131.68" width="3.22" height="7.04" fill="#005aff"/>
<rect x="312.00" y="138.12" width="3.82" height="7.04" fill="#0038ff"/>
<rect x="315.22" y="138.12" width="7.05" height="7.04" fill="#0008ff"/>
<rect x="321.67" y="138.12" width="7.05" height="7.04" fill="#0016ff"/>
<rect x="328.11" y="138.12" width="19.94" height="7.04" fill="#0038ff"/>
<rect x="347.45" y="138.12" width="7.05" height="7.04" fill="#005aff"/>
<rect x="353.89" y="138.12" width="7.05" height="7.04" fill="#00d4ff"/>
<rect x="360.34" y="138.12" width="7.05" height="7.04" fill="#3cffc3"/>
<rect x="366.78" y="138.12" width="7.05" height="7.04" fill="#5effa2"/>
<rect x="373.23" y="138.12" width="13.49" height="7.04" fill="#80ff80"/>
<rect x="386.12" y="138.12" width="7.05" height="7.04" fill="#3cffc3"/>
<rect x="392.56" y="138.12" width="13.49" height="7.04" fill="#00d4ff"/>
<rect x="405.45" y="138.12" width="7.05" height="7.04" fill="#007cff"/>
<rect x="411.90" y="138.12" width="7.05" height="7.04" fill="#00a5ff"/>
<rect x="418.35" y="138.12" width="7.05" height="7.04" fill="#007cff"/>
<rect x="424.79" y="138.12" width="7.05" height="7.04" fill="#00f6ff"/>
<rect x="431.24" y="138.12" width="7.05" height="7.04" fill="#3cffc3"/>
<rect x="437.68" y="138.12" width="7.05" height="7.04" fill="#80ff80"/>
<rect x="444.13" y="138.12" width="7.05" height="7.04" fill="#c3ff3c"/>
<rect x="450.57" y="138.12" width="7.05" height="7.04" fill="#5effa2"/>
<rect x="457.02" y="138.12" width="7.05" height="7.04" fill="#00f6ff"/>
<rect x="463.46" y="138.12" width="7.05" height="7.04" fill="#00d4ff"/>
<rect x="469.91" y="138.12" width="7.05" height="7.04" fill="#0008ff"/>
<rect x="476.35" y="138.12" width="7.05" height="7.04" fill="#005aff"/>
<rect x="482.80" y="138.12" width="26.38" height="7.04" fill="#0038ff"/>
<rect x="508.58" y="138.12" width="3.22" height="7.04" fill="#005aff"/>
<rect x="312.00" y="144.55" width="3.82" height="7.04" fill="#0008ff"/>
<rect x="315.22" y="144.55" width="7.05" height="7.04" fill="#0000e6"/>
<rect x="321.67" y="144.55" width="7.05" height="7.04" fill="#0008ff"/>
<rect x="328.11" y="144.55" width="7.05" height="7.04" fill="#0038ff"/>
<rect x="334.56" y="144.55" width="13.49" height="7.04" fill="#0016ff"/>
<rect x="347.45" y="144.55" width="7.05" height="7.04" fill="#0008ff"/>
<rect x="353.89" y="144.55" width="7.05" height="7.04" fill="#0038ff"/>
<rect x="360.34" y="144.55" width="19.94" height="7.04" fill="#00a5ff"/>
<rect x="379.67" y="144.55" width="7.05" height="7.04" fill="#00d4ff"/>
<rect x="386.12" y="144.55" width="7.05" height="7.04" fill="#00a5ff"/>
<rect x="392.56" y="144.55" width="19.94" height="7.04" fill="#007cff"/>
<rect x="411.90" y="144.55" width="7.05" height="7.04" fill="#0016ff"/>
<rect x="418.35" y="144.55" width="13.49" height="7.04" fill="#005aff"/>
<rect x="431.24" y="144.55" width="7.05" height="7.04" fill="#00d4ff"/>
<rect x="437.68" y="144.55" width="7.05" height="7.04" fill="#00a5ff"/>
<rect x="444.13" y="144.55" width="7.05" height="7.04" fill="#007cff"/>
<rect x="450.57" y="144.55" width="7.05" height="7.04" fill="#00d4ff"/>
<rect x="457.02" y="144.55" width="7.05" height="7.04" fill="#00a5ff"/>
<rect x="463.46" y="144.55" width="7.05" height="7.04" fill="#005aff"/>
<rect x="469.91" y="144.55" width="7.05" height="7.04" fill="#00a5ff"/>
<rect x="476.35" y="144.55" width="13.49" height="7.04" fill="#0038ff"/>
<rect x="489.24" y="144.55" width="19.94" height="7.04" fill="#0016ff"/>
<rect x="508.58" y="144.55" width="3.22" height="7.04" fill="#005aff"/>
<rect x="312.00" y="150.99" width="3.82" height="7.04" fill="#0016ff"/>
<rect x="315.22" y="150.99" width="7.05" height="7.04" fill="#0008ff"/>
<rect x="321.67" y="150.99" width="7.05" height="7.04" fill="#0038ff"/>
<rect x="328.11" y="150.99" width="7.05" height="7.04" fill="#0016ff"/>
<rect x="334.56" y="150.99" width="13.49" height="7.04" fill="#0008ff"/>
<rect x="347.45" y="150.99" width="13.49" height="7.04" fill="#0016ff"/>
<rect x="360.34" y="150.99" width="7.05" height="7.04" fill="#0008ff"/>
<rect x="366.78" y="150.99" width="7.05" height="7.04" fill="#005aff"/>
<rect x="373.23" y="150.99" width="13.49" height="7.04" fill="#007cff"/>
<rect x="386.12" y="150.99" width="7.05" height="7.04" fill="#0038ff"/>
<rect x="392.56" y="150.99" width="13.49" height="7.04" fill="#005aff"/>
<rect x="405.45" y="150.99" width="7.05" height="7.04" fill="#0038ff"/>
<rect x="411.90" y="150.99" width="7.05" height="7.04" fill="#005aff"/>
<rect x="418.35" y="150.99" width="7.05" height="7.04" fill="#0000e6"/>
<rect x="424.79" y="150.99" width="26.38" height="7.04" fill="#005aff"/>
<rect x="450.57" y="150.99" width="7.05" height="7.04" fill="#0038ff"/>
<rect x="457.02" y="150.99" width="7.05" height="7.04" fill="#007cff"/>
<rect x="463.46" y="150.99" width="7.05" height="7.04" fill="#005aff"/>
<rect x="469.91" y="150.99" width="7.05" height="7.04" fill="#0008ff"/>
<rect x="476.35" y="150.99" width="7.05" height="7.04" fill="#0000e6"/>
<rect x="482.80" y="150.99" width="7.05" height="7.04" fill="#0008ff"/>
<rect x="489.24" y="150.99" width="7.05" height="7.04" fill="#005aff"/>
<rect x="495.69" y="150.99" width="7.05" height="7.04" fill="#0016ff"/>
<rect x="502.13" y="150.99" width="7.05" height="7.04" fill="#0000e6"/>
<rect x="508.58" y="150.99" width="3.22" height="7.04" fill="#0038ff"/>
<rect x="312.00" y="157.43" width="3.82" height="7.04" fill="#005aff"/>
<rect x="315.22" y="157.43" width="7.05" height="7.04" fill="#0008ff"/>
<rect x="321.67" y="157.43" width="7.05" height="7.04" fill="#0016ff"/>
<rect x="328.11" y="157.43" width="7.05" height="7.04" fill="#0000e6"/>
<rect x="334.56" y="157.43" width="7.05" height="7.04" fill="#0008ff"/>
<rect x="341.00" y="157.43" width="7.05" height="7.04" fill="#0016ff"/>
<rect x="347.45" y="157.43" width="7.05" height="7.04" fill="#005aff"/>
<rect x="353.89" y="157.43" width="7.05" height="7.04" fill="#0016ff"/>
<rect x="360.34" y="157.43" width="7.05" height="7.04" fill="#0038ff"/>
<rect x="366.78" y="157.43" width="7.05" height="7.04" fill="#0008ff"/>
<rect x="373.23" y="157.43" width="7.05" height="7.04" fill="#005aff"/>
<rect x="379.67" y="157.43" width="7.05" height="7.04" fill="#0016ff"/>
<rect x="386.12" y="157.43" width="7.05" height="7.04" fill="#0008ff"/>
<rect x="392.56" y="157.43" width="7.05" height="7.04" fill="#005aff"/>
<rect x="399.01" y="157.43" width="13.49" height="7.04" fill="#0038ff"/>
<rect x="411.90" y="157.43" width="7.05" height="7.04" fill="#005aff"/>
<rect x="418.35" y="157.43" width="7.05" height="7.04" fill="#0008ff"/>
<rect x="424.79" y="157.43" width="7.05" height="7.04" fill="#005aff"/>
<rect x="431.24" y="157.43" width="7.05" height="7.04" fill="#0008ff"/>
<rect x="437.68" y="157.43" width="13.49" height="7.04" fill="#0038ff"/>
<rect x="450.57" y="157.43" width="7.05" height="7.04" fill="#0000e6"/>
<rect x="457.02" y="157.43" width="7.05" height="7.04" fill="#0016ff"/>
<rect x="463.46" y="157.43" width="7.05" height="7.04" fill="#0038ff"/>
<rect x="469.91" y="157.43" width="13.49" height="7.04" fill="#0008ff"/>
<rect x="482.80" y="157.43" width="7.05" height="7.04" fill="#0038ff"/>
<rect x="489.24" y="157.43" width="7.05" height="7.04" fill="#0008ff"/>
<rect x="495.69" y="157.43" width="7.05" height="7.04" fill="#0038ff"/>
<rect x="502.13" y="157.43" width="7.05" height="7.04" fill="#0008ff"/>
<rect x="508.58" y="157.43" width="3.22" height="7.04" fill="#0038ff"/>
<rect x="312.00" y="163.87" width="3.82" height="7.04" fill="#0016ff"/>
<rect x="315.22" y="163.87" width="7.05" height="7.04" fill="#005aff"/>
<rect x="321.67" y="163.87" width="7.05" height="7.04" fill="#0008ff"/>
<rect x="328.11" y="163.87" width="7.05" height="7.04" fill="#0016ff"/>
<rect x="334.56" y="163.87" width="13.49" height="7.04" fill="#0008ff"/>
<rect x="347.45" y="163.87" width="7.05" height="7.04" fill="#0016ff"/>
<rect x="353.89" y="163.87" width="7.05" height="7.04" fill="#0038ff"/>
<rect x="360.34" y="163.87" width="7.05" height="7.04" fill="#0016ff"/>
<rect x="366.78" y="163.87" width="7.05" height="7.04" fill="#0038ff"/>
<rect x="373.23" y="163.87" width="19.94" height="7.04" fill="#0016ff"/>
<rect x="392.56" y="163.87" width="13.49" height="7.04" fill="#0008ff"/>
<rect x="405.45" y="163.87" width="7.05" height="7.04" fill="#0016ff"/>
<rect x="411.90" y="163.87" width="7.05" height="7.04" fill="#0038ff"/>
<rect x="418.35" y="163.87" width="7.05" height="7.04" fill="#005aff"/>
<rect x="424.79" y="163.87" width="19.94" height="7.04" fill="#0016ff"/>
<rect x="444.13" y="163.87" width="7.05" height="7.04" fill="#005aff"/>
<rect x="450.57" y="163.87" width="7.05" height="7.04" fill="#0038ff"/>
<rect x="457.02" y="163.87" width="7.05" height="7.04" fill="#0000e6"/>
<rect x="463.46" y="163.87" width="26.38" height="7.04" fill="#0016ff"/>
<rect x="489.24" y="163.87" width="7.05" height="7.04" fill="#00a5ff"/>
<rect x="495.69" y="163.87" width="13.49" height="7.04" fill="#0016ff"/>
<rect x="508.58" y="163.87" width="3.22" height="7.04" fill="#0038ff"/>
<rect x="312.00" y="170.31" width="10.27" height="7.04" fill="#0038ff"/>
<rect x="321.67" y="170.31" width="7.05" height="7.04" fill="#005aff"/>
<rect x="328.11" y="170.31" width="13.49" height="7.04" fill="#0016ff"/>
<rect x="341.00" y="170.31" width="7.05" height="7.04" fill="#0038ff"/>
<rect x="347.45" y="170.31" width="7.05" height="7.04" fill="#0016ff"/>
<rect x="353.89" y="170.31" width="7.05" height="7.04" fill="#0008ff"/>
<rect x="360.34" y="170.31" width="7.05" height="7.04" fill="#0016ff"/>
<rect x="366.78" y="170.31" width="7.05" height="7.04" fill="#0000e6"/>
<rect x="373.23" y="170.31" width="7.05" height="7.04" fill="#0038ff"/>
<rect x="379.67" y="170.31" width="19.94" height="7.04" fill="#0016ff"/>
<rect x="399.01" y="170.31" width="7.05" height="7.04" fill="#005aff"/>
<rect x="405.45" y="170.31" width="7.05" height="7.04" fill="#0008ff"/>
<rect x="411.90" y="170.31" width="7.05" height="7.04" fill="#0016ff"/>
<rect x="418.35" y="170.31" width="7.05" height="7.04" fill="#005aff"/>
<rect x="424.79" y="170.31" width="7.05" height="7.04" fill="#0016ff"/>
<rect x="431.24" y="170.31" width="13.49" height="7.04" fill="#0038ff"/>
<rect x="444.13" y="170.31" width="7.05" height="7.04" fill="#005aff"/>
<rect x="450.57" y="170.31" width="13.49" height="7.04" fill="#0038ff"/>
<rect x="463.46" y="170.31" width="7.05" height="7.04" fill="#0008ff"/>
<rect x="469.91" y="170.31" width="19.94" height="7.04" fill="#0016ff"/>
<rect x="489.24" y="170.31" width="7.05" height="7.04" fill="#005aff"/>
<rect x="495.69" y="170.31" width="7.05" height="7.04" fill="#0016ff"/>
<rect x="502.13" y="170.31" width="7.05" height="7.04" fill="#007cff"/>
<rect x="508.58" y="170.31" width="3.22" height="7.04" fill="#005aff"/>
<rect x="312.00" y="176.75" width="3.82" height="7.04" fill="#0016ff"/>
<rect x="315.22" y="176.75" width="13.49" height="7.04" fill="#0038ff"/>
<rect x="328.11" y="176.75" width="7.05" height="7.04" fill="#0016ff"/>
<rect x="334.56" y="176.75" width="7.05" height="7.04" fill="#0008ff"/>
<rect x="341.00" y="176.75" width="13.49" height="7.04" fill="#0016ff"/>
<rect x="353.89" y="176.75" width="7.05" height="7.04" fill="#0008ff"/>
<rect x="360.34" y="176.75" width="7.05" height="7.04" fill="#005aff"/>
<rect x="366.78" y="176.75" width="7.05" height="7.04" fill="#0008ff"/>
<rect x="373.23" y="176.75" width="7.05" height="7.04" fill="#007cff"/>
<rect x="379.67" y="176.75" width="7.05" height="7.04" fill="#005aff"/>
<rect x="386.12" y="176.75" width="7.05" height="7.04" fill="#0016ff"/>
<rect x="392.56" y="176.75" width="7.05" height="7.04" fill="#005aff"/>
<rect x="399.01" y="176.75" width="13.49" height="7.04" fill="#0008ff"/>
<rect x="411.90" y="176.75" width="7.05" height="7.04" fill="#0038ff"/>
<rect x="418.35" y="176.75" width="7.05" height="7.04" fill="#0000e6"/>
<rect x="424.79" y="176.75" width="7.05" height="7.04" fill="#0038ff"/>
<rect x="431.24" y="176.75" width="7.05" height="7.04" fill="#0016ff"/>
<rect x="437.68" y="176.75" width="19.94" height="7.04" fill="#0038ff"/>
<rect x="457.02" y="176.75" width="7.05" height="7.04" fill="#007cff"/>
<rect x="463.46" y="176.75" width="19.94" height="7.04" fill="#0008ff"/>
<rect x="482.80" y="176.75" width="7.05" height="7.04" fill="#0016ff"/>
<rect x="489.24" y="176.75" width="7.05" height="7.04" fill="#0008ff"/>
<rect x="495.69" y="176.75" width="7.05" height="7.04" fill="#0016ff"/>
<rect x="502.13" y="176.75" width="7.05" height="7.04" fill="#005aff"/>
<rect x="508.58" y="176.75" width="3.22" height="7.04" fill="#0038ff"/>
<rect x="312.00" y="183.19" width="3.82" height="7.04" fill="#005aff"/>
<rect x="315.22" y="183.19" width="7.05" height="7.04" fill="#0016ff"/>
<rect x="321.67" y="183.19" width="26.38" height="7.04" fill="#005aff"/>
<rect x="347.45" y="183.19" width="7.05" height="7.04" fill="#0038ff"/>
<rect x="353.89" y="183.19" width="19.94" height="7.04" fill="#0016ff"/>
<rect x="373.23" y="183.19" width="7.05" height="7.04" fill="#0038ff"/>
<rect x="379.67" y="183.19" width="26.38" height="7.04" fill="#0016ff"/>
<rect x="405.45" y="183.19" width="7.05" height="7.04" fill="#007cff"/>
<rect x="411.90" y="183.19" width="7.05" height="7.04" fill="#0008ff"/>
<rect x="418.35" y="183.19" width="7.05" height="7.04" fill="#0016ff"/>
<rect x="424.79" y="183.19" width="13.49" height="7.04" fill="#0000e6"/>
<rect x="437.68" y="183.19" width="7.05" height="7.04" fill="#0016ff"/>
<rect x="444.13" y="183.19" width="7.05" height="7.04" fill="#0038ff"/>
<rect x="450.57" y="183.19" width="7.05" height="7.04" fill="#0000e6"/>
<rect x="457.02" y="183.19" width="13.49" height="7.04" fill="#0016ff"/>
<rect x="469.91" y="183.19" width="7.05" height="7.04" fill="#0000c3"/>
<rect x="476.35" y="183.19" width="7.05" height="7.04" fill="#005aff"/>
<rect x="482.80" y="183.19" width="13.49" height="7.04" fill="#0038ff"/>
<rect x="495.69" y="183.19" width="7.05" height="7.04" fill="#0016ff"/>
<rect x="502.13" y="183.19" width="7.05" height="7.04" fill="#005aff"/>
<rect x="508.58" y="183.19" width="3.22" height="7.04" fill="#0016ff"/>
<rect x="312.00" y="189.63" width="3.82" height="7.04" fill="#0000e6"/>
<rect x="315.22" y="189.63" width="7.05" height="7.04" fill="#0008ff"/>
<rect x="321.67" y="189.63" width="7.05" height="7.04" fill="#0000c3"/>
<rect x="328.11" y="189.63" width="7.05" height="7.04" fill="#005aff"/>
<rect x="334.56" y="189.63" width="7.05" height="7.04" fill="#0016ff"/>
<rect x="341.00" y="189.63" width="7.05" height="7.04" fill="#0038ff"/>
<rect x="347.45" y="189.63" width="7.05" height="7.04" fill="#0000e6"/>
<rect x="353.89" y="189.63" width="7.05" height="7.04" fill="#005aff"/>
<rect x="360.34" y="189.63" width="7.05" height="7.04" fill="#0008ff"/>
<rect x="366.78" y="189.63" width="13.49" height="7.04" fill="#0016ff"/>
<rect x="379.67" y="189.63" width="7.05" height="7.04" fill="#0038ff"/>
<rect x="386.12" y="189.63" width="7.05" height="7.04" fill="#0000e6"/>
<rect x="392.56" y="189.63" width="7.05" height="7.04" fill="#0008ff"/>
<rect x="399.01" y="189.63" width="7.05" height="7.04" fill="#0000c3"/>
<rect x="405.45" y="189.63" width="7.05" height="7.04" fill="#007cff"/>
<rect x="411.90" y="189.63" width="7.05" height="7.04" fill="#005aff"/>
<rect x="418.35" y="189.63" width="13.49" height="7.04" fill="#0038ff"/>
<rect x="431.24" y="189.63" width="7.05" height="7.04" fill="#0016ff"/>
<rect x="437.68" y="189.63" width="13.49" height="7.04" fill="#0038ff"/>
<rect x="450.57" y="189.63" width="7.05" height="7.04" fill="#0016ff"/>
<rect x="457.02" y="189.63" width="7.05" height="7.04" fill="#0000e6"/>
<rect x="463.46" y="189.63" width="13.49" height="7.04" fill="#0016ff"/>
<rect x="476.35" y="189.63" width="7.05" height="7.04" fill="#0008ff"/>
<rect x="482.80" y="189.63" width="13.49" height="7.04" fill="#0038ff"/>
<rect x="495.69" y="189.63" width="16.11" height="7.04" fill="#0016ff"/>
<rect x="312.00" y="196.06" width="3.82" height="7.04" fill="#0038ff"/>
<rect x="315.22" y="196.06" width="13.49" height="7.04" fill="#0016ff"/>
<rect x="328.11" y="196.06" width="7.05" height="7.04" fill="#007cff"/>
<rect x="334.56" y="196.06" width="7.05" height="7.04" fill="#0016ff"/>
<rect x="341.00" y="196.06" width="7.05" height="7.04" fill="#005aff"/>
<rect x="347.45" y="196.06" width="7.05" height="7.04" fill="#0038ff"/>
<rect x="353.89" y="196.06" width="7.05" height="7.04" fill="#0000e6"/>
<rect x="360.34" y="196.06" width="19.94" height="7.04" fill="#0016ff"/>
<rect x="379.67" y="196.06" width="7.05" height="7.04" fill="#0038ff"/>
<rect x="386.12" y="196.06" width="13.49" height="7.04" fill="#0016ff"/>
<rect x="399.01" y="196.06" width="7.05" height="7.04" fill="#0008ff"/>
<rect x="405.45" y="196.06" width="13.49" height="7.04" fill="#0016ff"/>
<rect x="418.35" y="196.06" width="7.05" height="7.04" fill="#0000e6"/>
<rect x="424.79" y="196.06" width="26.38" height="7.04" fill="#0016ff"/>
<rect x="450.57" y="196.06" width="7.05" height="7.04" fill="#007cff"/>
<rect x="457.02" y="196.06" width="7.05" height="7.04" fill="#0016ff"/>
<rect x="463.46" y="196.06" width="7.05" height="7.04" fill="#005aff"/>
<rect x="469.91" y="196.06" width="7.05" height="7.04" fill="#0038ff"/>
<rect x="476.35" y="196.06" width="7.05" height="7.04" fill="#007cff"/>
<rect x="482.80" y="196.06" width="13.49" height="7.04" fill="#0008ff"/>
<rect x="495.69" y="196.06" width="13.49" height="7.04" fill="#005aff"/>
<rect x="508.58" y="196.06" width="3.22" height="7.04" fill="#0038ff"/>
<rect x="312.00" y="202.50" width="3.82" height="7.04" fill="#005aff"/>
<rect x="315.22" y="202.50" width="7.05" height="7.04" fill="#0038ff"/>
<rect x="321.67" y="202.50" width="7.05" height="7.04" fill="#0016ff"/>
<rect x="328.11" y="202.50" width="7.05" height="7.04" fill="#005aff"/>
<rect x="334.56" y="202.50" width="13.49" height="7.04" fill="#0016ff"/>
<rect x="347.45" y="202.50" width="7.05" height="7.04" fill="#0008ff"/>
<rect x="353.89" y="202.50" width="19.94" height="7.04" fill="#0016ff"/>
<rect x="373.23" y="202.50" width="7.05" height="7.04" fill="#007cff"/>
<rect x="379.67" y="202.50" width="19.94" height="7.04" fill="#0038ff"/>
<rect x="399.01" y="202.50" width="7.05" height="7.04" fill="#0016ff"/>
<rect x="405.45" y="202.50" width="7.05" height="7.04" fill="#0008ff"/>
<rect x="411.90" y="202.50" width="19.94" height="7.04" fill="#0016ff"/>
<rect x="431.24" y="202.50" width="7.05" height="7.04" fill="#0000e6"/>
<rect x="437.68" y="202.50" width="13.49" height="7.04" fill="#0016ff"/>
<rect x="450.57" y="202.50" width="7.05" height="7.04" fill="#0000e6"/>
<rect x="457.02" y="202.50" width="13.49" height="7.04" fill="#0016ff"/>
<rect x="469.91" y="202.50" width="7.05" height="7.04" fill="#007cff"/>
<rect x="476.35" y="202.50" width="7.05" height="7.04" fill="#0016ff"/>
<rect x="482.80" y="202.50" width="19.94" height="7.04" fill="#005aff"/>
<rect x="502.13" y="202.50" width="7.05" height="7.04" fill="#0038ff"/>
<rect x="508.58" y="202.50" width="3.22" height="7.04" fill="#0016ff"/>
<rect x="312.00" y="208.94" width="10.27" height="7.04" fill="#007cff"/>
<rect x="321.67" y="208.94" width="7.05" height="7.04" fill="#005aff"/>
<rect x="328.11" y="208.94" width="7.05" height="7.04" fill="#007cff"/>
<rect x="334.56" y="208.94" width="7.05" height="7.04" fill="#0000e6"/>
<rect x="341.00" y="208.94" width="13.49" height="7.04" fill="#0038ff"/>
<rect x="353.89" y="208.94" width="7.05" height="7.04" fill="#0016ff"/>
<rect x="360.34" y="208.94" width="7.05" height="7.04" fill="#0000e6"/>
<rect x="366.78" y="208.94" width="7.05" height="7.04" fill="#0038ff"/>
<rect x="373.23" y="208.94" width="7.05" height="7.04" fill="#0016ff"/>
<rect x="379.67" y="208.94" width="7.05" height="7.04" fill="#005aff"/>
<rect x="386.12" y="208.94" width="7.05" height="7.04" fill="#0016ff"/>
<rect x="392.56" y="208.94" width="7.05" height="7.04" fill="#0000e6"/>
<rect x="399.01" y="208.94" width="7.05" height="7.04" fill="#0038ff"/>
<rect x="405.45" y="208.94" width="19.94" height="7.04" fill="#0016ff"/>
<rect x="424.79" y="208.94" width="7.05" height="7.04" fill="#005aff"/>
<rect x="431.24" y="208.94" width="7.05" height="7.04" fill="#0016ff"/>
<rect x="437.68" y="208.94" width="7.05" height="7.04" fill="#0008ff"/>
<rect x="444.13" y="208.94" width="7.05" height="7.04" fill="#0016ff"/>
<rect x="450.57" y="208.94" width="7.05" height="7.04" fill="#007cff"/>
<rect x="457.02" y="208.94" width="7.05" height="7.04" fill="#00a5ff"/>
<rect x="463.46" y="208.94" width="7.05" height="7.04" fill="#0000e6"/>
<rect x="469.91" y="208.94" width="7.05" height="7.04" fill="#007cff"/>
<rect x="476.35" y="208.94" width="7.05" height="7.04" fill="#0016ff"/>
<rect x="482.80" y="208.94" width="7.05" height="7.04" fill="#005aff"/>
<rect x="489.24" y="208.94" width="7.05" height="7.04" fill="#0038ff"/>
<rect x="495.69" y="208.94" width="13.49" height="7.04" fill="#0016ff"/>
<rect x="508.58" y="208.94" width="3.22" height="7.04" fill="#0038ff"/>
<rect x="312.00" y="215.38" width="16.71" height="3.22" fill="#0038ff"/>
<rect x="328.11" y="215.38" width="13.49" height="3.22" fill="#0016ff"/>
<rect x="341.00" y="215.38" width="13.49" height="3.22" fill="#0038ff"/>
<rect x="353.89" y="215.38" width="32.83" height="3.22" fill="#0016ff"/>
<rect x="386.12" y="215.38" width="7.05" height="3.22" fill="#0038ff"/>
<rect x="392.56" y="215.38" width="7.05" height="3.22" fill="#0016ff"/>
<rect x="399.01" y="215.38" width="7.05" height="3.22" fill="#0038ff"/>
<rect x="405.45" y="215.38" width="19.94" height="3.22" fill="#0016ff"/>
<rect x="424.79" y="215.38" width="7.05" height="3.22" fill="#0038ff"/>
<rect x="431.24" y="215.38" width="7.05" height="3.22" fill="#0016ff"/>
<rect x="437.68" y="215.38" width="7.05" height="3.22" fill="#0000e6"/>
<rect x="444.13" y="215.38" width="13.49" height="3.22" fill="#0038ff"/>
<rect x="457.02" y="215.38" width="7.05" height="3.22" fill="#0000e6"/>
<rect x="463.46" y="215.38" width="7.05" height="3.22" fill="#0016ff"/>
<rect x="469.91" y="215.38" width="7.05" height="3.22" fill="#0038ff"/>
<rect x="476.35" y="215.38" width="7.05" height="3.22" fill="#0016ff"/>
<rect x="482.80" y="215.38" width="7.05" height="3.22" fill="#0008ff"/>
<rect x="489.24" y="215.38" width="7.05" height="3.22" fill="#0016ff"/>
<rect x="495.69" y="215.38" width="7.05" height="3.22" fill="#007cff"/>
<rect x="502.13" y="215.38" width="7.05" height="3.22" fill="#0016ff"/>
<rect x="508.58" y="215.38" width="3.22" height="3.22" fill="#0038ff"/></g>
<rect x="239.1" y="22.7" width="7.6" height="196.5" fill="url(#jet)"/>
<rect x="515.4" y="19.0" width="7.7" height="199.6" fill="url(#jet)"/>
<rect x="48.1" y="26.2" width="15.9" height="13.3" fill="#fff"/>
<text x="56" y="36.3" text-anchor="middle" font-size="9.5" letter-spacing="0.25" font-family="Liberation Sans, sans-serif" fill="#1a1a1a" stroke="#1a1a1a" stroke-width="0.35">(a)</text>
<rect x="321" y="22.1" width="16.1" height="13.8" fill="#fff"/>
<text x="329" y="32.5" text-anchor="middle" font-size="9.5" letter-spacing="0.25" font-family="Liberation Sans, sans-serif" fill="#1a1a1a" stroke="#1a1a1a" stroke-width="0.35">(b)</text>
<text x="74.1" y="230.3" text-anchor="middle" font-size="9.6" >−500</text>
<text x="137.5" y="230.3" text-anchor="middle" font-size="9.6" >0</text>
<text x="200.9" y="230.3" text-anchor="middle" font-size="9.6" >500</text>
<text x="36.7" y="48.0" text-anchor="end" font-size="9.6" >600</text>
<text x="36.7" y="73.3" text-anchor="end" font-size="9.6" >400</text>
<text x="36.7" y="98.7" text-anchor="end" font-size="9.6" >200</text>
<text x="36.7" y="124.0" text-anchor="end" font-size="9.6" >0</text>
<text x="36.7" y="149.4" text-anchor="end" font-size="9.6" >−200</text>
<text x="36.7" y="174.8" text-anchor="end" font-size="9.6" >−400</text>
<text x="36.7" y="200.1" text-anchor="end" font-size="9.6" >−600</text>
<text x="137.5" y="242.5" text-anchor="middle" font-size="10.4"><tspan font-style="italic">x</tspan>(m)</text>
<text transform="translate(13.5 120.9) rotate(-90)" text-anchor="middle" font-size="10.4"><tspan font-style="italic">y</tspan>(m)</text>
<text x="347.4" y="230.3" text-anchor="middle" font-size="9.6" >−500</text>
<text x="411.9" y="230.3" text-anchor="middle" font-size="9.6" >0</text>
<text x="476.4" y="230.3" text-anchor="middle" font-size="9.6" >500</text>
<text x="309.4" y="44.6" text-anchor="end" font-size="9.6" >600</text>
<text x="309.4" y="70.4" text-anchor="end" font-size="9.6" >400</text>
<text x="309.4" y="96.1" text-anchor="end" font-size="9.6" >200</text>
<text x="309.4" y="121.9" text-anchor="end" font-size="9.6" >0</text>
<text x="309.4" y="147.7" text-anchor="end" font-size="9.6" >−200</text>
<text x="309.4" y="173.4" text-anchor="end" font-size="9.6" >−400</text>
<text x="309.4" y="199.2" text-anchor="end" font-size="9.6" >−600</text>
<text x="411.9" y="241.8" text-anchor="middle" font-size="10.4"><tspan font-style="italic">x</tspan>(m)</text>
<text transform="translate(289.2 118.8) rotate(-90)" text-anchor="middle" font-size="10.4"><tspan font-style="italic">y</tspan>(m)</text>
<text x="243.0" y="16.7" text-anchor="middle" font-size="9.9" >mGal</text>
<text x="519.5" y="12.4" text-anchor="middle" font-size="9.9" >mGal</text>
<text x="249.5" y="59.5" text-anchor="start" font-size="9.6" >0.01</text>
<line x1="245.2" x2="246.7" y1="56.3" y2="56.3" stroke="#262626" stroke-width="0.5"/>
<text x="249.5" y="103.9" text-anchor="start" font-size="9.6" >0</text>
<line x1="245.2" x2="246.7" y1="100.7" y2="100.7" stroke="#262626" stroke-width="0.5"/>
<text x="249.5" y="148.3" text-anchor="start" font-size="9.6" >−0.01</text>
<line x1="245.2" x2="246.7" y1="145.1" y2="145.1" stroke="#262626" stroke-width="0.5"/>
<text x="249.5" y="192.7" text-anchor="start" font-size="9.6" >−0.02</text>
<line x1="245.2" x2="246.7" y1="189.5" y2="189.5" stroke="#262626" stroke-width="0.5"/>
<text x="526.2" y="30.6" text-anchor="start" font-size="9.6" >0.03</text>
<line x1="521.6" x2="523.1" y1="27.4" y2="27.4" stroke="#262626" stroke-width="0.5"/>
<text x="526.2" y="79.0" text-anchor="start" font-size="9.6" >0.02</text>
<line x1="521.6" x2="523.1" y1="75.8" y2="75.8" stroke="#262626" stroke-width="0.5"/>
<text x="526.2" y="127.3" text-anchor="start" font-size="9.6" >0.01</text>
<line x1="521.6" x2="523.1" y1="124.1" y2="124.1" stroke="#262626" stroke-width="0.5"/>
<text x="526.2" y="175.7" text-anchor="start" font-size="9.6" >0</text>
<line x1="521.6" x2="523.1" y1="172.5" y2="172.5" stroke="#262626" stroke-width="0.5"/>
</svg>
</body></html>
